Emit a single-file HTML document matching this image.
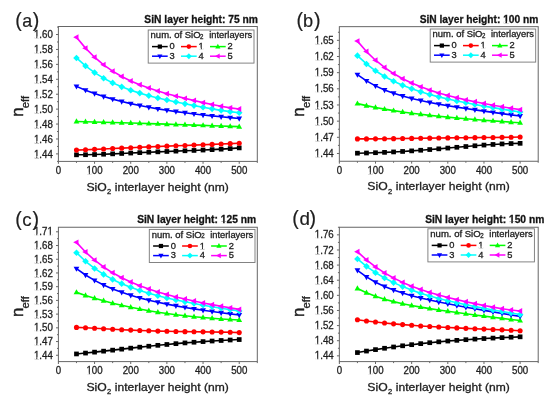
<!DOCTYPE html>
<html><head><meta charset="utf-8"><style>
html,body{margin:0;padding:0;background:#fff;}
svg{display:block;filter:blur(0.3px);}
text{font-family:"Liberation Sans", sans-serif;fill:#1e1e1e;stroke:#1e1e1e;stroke-width:0.3px;}
.tk{font-size:10.2px;}
.pl{font-size:19.6px;stroke-width:0.2px;}
.pm{stroke-width:0.2px;}
.tt{font-size:10px;font-weight:bold;fill:#111;}
.xl{font-size:10.8px;}
.xs{font-size:7.2px;}
.ls{font-size:6.4px;}
.yl{font-size:16.6px;stroke-width:0.45px;}
.ye{font-size:10px;}
.lg{font-size:8.4px;}
.ld{font-size:9.3px;}
</style></head><body>
<svg width="550" height="400" viewBox="0 0 550 400">
<rect width="550" height="400" fill="#fff"/>
<polyline points="76.48,154.82 85.52,154.73 94.56,154.52 103.60,154.22 112.65,153.86 121.69,153.47 130.73,153.06 139.77,152.64 148.81,152.24 157.85,151.85 166.89,151.48 175.93,151.13 184.97,150.78 194.01,150.43 203.05,150.05 212.10,149.64 221.14,149.17 230.18,148.60 239.22,147.90" fill="none" stroke="#000000" stroke-width="1.6" stroke-linejoin="round"/>
<rect x="74.13" y="152.47" width="4.70" height="4.70" fill="#000000"/>
<rect x="83.17" y="152.38" width="4.70" height="4.70" fill="#000000"/>
<rect x="92.21" y="152.17" width="4.70" height="4.70" fill="#000000"/>
<rect x="101.25" y="151.87" width="4.70" height="4.70" fill="#000000"/>
<rect x="110.30" y="151.51" width="4.70" height="4.70" fill="#000000"/>
<rect x="119.34" y="151.12" width="4.70" height="4.70" fill="#000000"/>
<rect x="128.38" y="150.71" width="4.70" height="4.70" fill="#000000"/>
<rect x="137.42" y="150.29" width="4.70" height="4.70" fill="#000000"/>
<rect x="146.46" y="149.89" width="4.70" height="4.70" fill="#000000"/>
<rect x="155.50" y="149.50" width="4.70" height="4.70" fill="#000000"/>
<rect x="164.54" y="149.13" width="4.70" height="4.70" fill="#000000"/>
<rect x="173.58" y="148.78" width="4.70" height="4.70" fill="#000000"/>
<rect x="182.62" y="148.43" width="4.70" height="4.70" fill="#000000"/>
<rect x="191.66" y="148.08" width="4.70" height="4.70" fill="#000000"/>
<rect x="200.70" y="147.70" width="4.70" height="4.70" fill="#000000"/>
<rect x="209.75" y="147.29" width="4.70" height="4.70" fill="#000000"/>
<rect x="218.79" y="146.82" width="4.70" height="4.70" fill="#000000"/>
<rect x="227.83" y="146.25" width="4.70" height="4.70" fill="#000000"/>
<rect x="236.87" y="145.55" width="4.70" height="4.70" fill="#000000"/>
<polyline points="76.48,150.11 85.52,149.75 94.56,149.37 103.60,148.97 112.65,148.55 121.69,148.14 130.73,147.73 139.77,147.32 148.81,146.92 157.85,146.54 166.89,146.16 175.93,145.80 184.97,145.44 194.01,145.09 203.05,144.74 212.10,144.39 221.14,144.02 230.18,143.64 239.22,143.22" fill="none" stroke="#ff0000" stroke-width="1.6" stroke-linejoin="round"/>
<circle cx="76.48" cy="150.11" r="2.55" fill="#ff0000"/>
<circle cx="85.52" cy="149.75" r="2.55" fill="#ff0000"/>
<circle cx="94.56" cy="149.37" r="2.55" fill="#ff0000"/>
<circle cx="103.60" cy="148.97" r="2.55" fill="#ff0000"/>
<circle cx="112.65" cy="148.55" r="2.55" fill="#ff0000"/>
<circle cx="121.69" cy="148.14" r="2.55" fill="#ff0000"/>
<circle cx="130.73" cy="147.73" r="2.55" fill="#ff0000"/>
<circle cx="139.77" cy="147.32" r="2.55" fill="#ff0000"/>
<circle cx="148.81" cy="146.92" r="2.55" fill="#ff0000"/>
<circle cx="157.85" cy="146.54" r="2.55" fill="#ff0000"/>
<circle cx="166.89" cy="146.16" r="2.55" fill="#ff0000"/>
<circle cx="175.93" cy="145.80" r="2.55" fill="#ff0000"/>
<circle cx="184.97" cy="145.44" r="2.55" fill="#ff0000"/>
<circle cx="194.01" cy="145.09" r="2.55" fill="#ff0000"/>
<circle cx="203.05" cy="144.74" r="2.55" fill="#ff0000"/>
<circle cx="212.10" cy="144.39" r="2.55" fill="#ff0000"/>
<circle cx="221.14" cy="144.02" r="2.55" fill="#ff0000"/>
<circle cx="230.18" cy="143.64" r="2.55" fill="#ff0000"/>
<circle cx="239.22" cy="143.22" r="2.55" fill="#ff0000"/>
<polyline points="76.48,121.43 85.52,121.68 94.56,121.94 103.60,122.21 112.65,122.48 121.69,122.75 130.73,123.03 139.77,123.31 148.81,123.59 157.85,123.88 166.89,124.17 175.93,124.47 184.97,124.77 194.01,125.08 203.05,125.39 212.10,125.70 221.14,126.02 230.18,126.34 239.22,126.67" fill="none" stroke="#00ff00" stroke-width="1.6" stroke-linejoin="round"/>
<path d="M76.48,118.23L79.36,123.41L73.60,123.41Z" fill="#00ff00"/>
<path d="M85.52,118.48L88.40,123.67L82.64,123.67Z" fill="#00ff00"/>
<path d="M94.56,118.74L97.44,123.93L91.68,123.93Z" fill="#00ff00"/>
<path d="M103.60,119.01L106.48,124.19L100.72,124.19Z" fill="#00ff00"/>
<path d="M112.65,119.28L115.53,124.46L109.77,124.46Z" fill="#00ff00"/>
<path d="M121.69,119.55L124.57,124.73L118.81,124.73Z" fill="#00ff00"/>
<path d="M130.73,119.83L133.61,125.01L127.85,125.01Z" fill="#00ff00"/>
<path d="M139.77,120.11L142.65,125.29L136.89,125.29Z" fill="#00ff00"/>
<path d="M148.81,120.39L151.69,125.58L145.93,125.58Z" fill="#00ff00"/>
<path d="M157.85,120.68L160.73,125.87L154.97,125.87Z" fill="#00ff00"/>
<path d="M166.89,120.97L169.77,126.16L164.01,126.16Z" fill="#00ff00"/>
<path d="M175.93,121.27L178.81,126.46L173.05,126.46Z" fill="#00ff00"/>
<path d="M184.97,121.57L187.85,126.76L182.09,126.76Z" fill="#00ff00"/>
<path d="M194.01,121.88L196.89,127.06L191.13,127.06Z" fill="#00ff00"/>
<path d="M203.05,122.19L205.93,127.37L200.17,127.37Z" fill="#00ff00"/>
<path d="M212.10,122.50L214.98,127.69L209.22,127.69Z" fill="#00ff00"/>
<path d="M221.14,122.82L224.02,128.01L218.26,128.01Z" fill="#00ff00"/>
<path d="M230.18,123.14L233.06,128.33L227.30,128.33Z" fill="#00ff00"/>
<path d="M239.22,123.47L242.10,128.65L236.34,128.65Z" fill="#00ff00"/>
<polyline points="76.48,86.38 85.52,90.14 94.56,93.49 103.60,96.47 112.65,99.12 121.69,101.50 130.73,103.63 139.77,105.55 148.81,107.29 157.85,108.86 166.89,110.30 175.93,111.61 184.97,112.81 194.01,113.92 203.05,114.95 212.10,115.91 221.14,116.81 230.18,117.65 239.22,118.45" fill="none" stroke="#0000ff" stroke-width="1.6" stroke-linejoin="round"/>
<path d="M76.48,89.58L79.36,84.39L73.60,84.39Z" fill="#0000ff"/>
<path d="M85.52,93.34L88.40,88.16L82.64,88.16Z" fill="#0000ff"/>
<path d="M94.56,96.69L97.44,91.51L91.68,91.51Z" fill="#0000ff"/>
<path d="M103.60,99.67L106.48,94.48L100.72,94.48Z" fill="#0000ff"/>
<path d="M112.65,102.32L115.53,97.14L109.77,97.14Z" fill="#0000ff"/>
<path d="M121.69,104.70L124.57,99.52L118.81,99.52Z" fill="#0000ff"/>
<path d="M130.73,106.83L133.61,101.65L127.85,101.65Z" fill="#0000ff"/>
<path d="M139.77,108.75L142.65,103.57L136.89,103.57Z" fill="#0000ff"/>
<path d="M148.81,110.49L151.69,105.31L145.93,105.31Z" fill="#0000ff"/>
<path d="M157.85,112.06L160.73,106.88L154.97,106.88Z" fill="#0000ff"/>
<path d="M166.89,113.50L169.77,108.31L164.01,108.31Z" fill="#0000ff"/>
<path d="M175.93,114.81L178.81,109.62L173.05,109.62Z" fill="#0000ff"/>
<path d="M184.97,116.01L187.85,110.83L182.09,110.83Z" fill="#0000ff"/>
<path d="M194.01,117.12L196.89,111.94L191.13,111.94Z" fill="#0000ff"/>
<path d="M203.05,118.15L205.93,112.97L200.17,112.97Z" fill="#0000ff"/>
<path d="M212.10,119.11L214.98,113.93L209.22,113.93Z" fill="#0000ff"/>
<path d="M221.14,120.01L224.02,114.82L218.26,114.82Z" fill="#0000ff"/>
<path d="M230.18,120.85L233.06,115.67L227.30,115.67Z" fill="#0000ff"/>
<path d="M239.22,121.65L242.10,116.46L236.34,116.46Z" fill="#0000ff"/>
<polyline points="76.48,57.96 85.52,65.91 94.56,72.58 103.60,78.18 112.65,82.88 121.69,86.85 130.73,90.22 139.77,93.12 148.81,95.67 157.85,97.95 166.89,100.04 175.93,101.98 184.97,103.83 194.01,105.59 203.05,107.28 212.10,108.87 221.14,110.34 230.18,111.64 239.22,112.69" fill="none" stroke="#00ffff" stroke-width="1.6" stroke-linejoin="round"/>
<path d="M76.48,54.66L79.78,57.96L76.48,61.26L73.18,57.96Z" fill="#00ffff"/>
<path d="M85.52,62.61L88.82,65.91L85.52,69.21L82.22,65.91Z" fill="#00ffff"/>
<path d="M94.56,69.28L97.86,72.58L94.56,75.88L91.26,72.58Z" fill="#00ffff"/>
<path d="M103.60,74.88L106.90,78.18L103.60,81.48L100.30,78.18Z" fill="#00ffff"/>
<path d="M112.65,79.58L115.95,82.88L112.65,86.18L109.35,82.88Z" fill="#00ffff"/>
<path d="M121.69,83.55L124.99,86.85L121.69,90.15L118.39,86.85Z" fill="#00ffff"/>
<path d="M130.73,86.92L134.03,90.22L130.73,93.52L127.43,90.22Z" fill="#00ffff"/>
<path d="M139.77,89.82L143.07,93.12L139.77,96.42L136.47,93.12Z" fill="#00ffff"/>
<path d="M148.81,92.37L152.11,95.67L148.81,98.97L145.51,95.67Z" fill="#00ffff"/>
<path d="M157.85,94.65L161.15,97.95L157.85,101.25L154.55,97.95Z" fill="#00ffff"/>
<path d="M166.89,96.74L170.19,100.04L166.89,103.34L163.59,100.04Z" fill="#00ffff"/>
<path d="M175.93,98.68L179.23,101.98L175.93,105.28L172.63,101.98Z" fill="#00ffff"/>
<path d="M184.97,100.53L188.27,103.83L184.97,107.13L181.67,103.83Z" fill="#00ffff"/>
<path d="M194.01,102.29L197.31,105.59L194.01,108.89L190.71,105.59Z" fill="#00ffff"/>
<path d="M203.05,103.98L206.35,107.28L203.05,110.58L199.75,107.28Z" fill="#00ffff"/>
<path d="M212.10,105.57L215.40,108.87L212.10,112.17L208.80,108.87Z" fill="#00ffff"/>
<path d="M221.14,107.04L224.44,110.34L221.14,113.64L217.84,110.34Z" fill="#00ffff"/>
<path d="M230.18,108.34L233.48,111.64L230.18,114.94L226.88,111.64Z" fill="#00ffff"/>
<path d="M239.22,109.39L242.52,112.69L239.22,115.99L235.92,112.69Z" fill="#00ffff"/>
<polyline points="76.48,37.26 85.52,48.13 94.56,57.23 103.60,64.83 112.65,71.17 121.69,76.48 130.73,80.96 139.77,84.77 148.81,88.08 157.85,91.01 166.89,93.66 175.93,96.10 184.97,98.40 194.01,100.57 203.05,102.64 212.10,104.57 221.14,106.33 230.18,107.86 239.22,109.05" fill="none" stroke="#ff00ff" stroke-width="1.6" stroke-linejoin="round"/>
<path d="M73.18,37.26L78.53,34.29L78.53,40.23Z" fill="#ff00ff"/>
<path d="M82.22,48.13L87.57,45.16L87.57,51.10Z" fill="#ff00ff"/>
<path d="M91.26,57.23L96.61,54.26L96.61,60.20Z" fill="#ff00ff"/>
<path d="M100.30,64.83L105.65,61.86L105.65,67.80Z" fill="#ff00ff"/>
<path d="M109.35,71.17L114.69,68.20L114.69,74.14Z" fill="#ff00ff"/>
<path d="M118.39,76.48L123.73,73.51L123.73,79.45Z" fill="#ff00ff"/>
<path d="M127.43,80.96L132.77,77.99L132.77,83.93Z" fill="#ff00ff"/>
<path d="M136.47,84.77L141.81,81.80L141.81,87.74Z" fill="#ff00ff"/>
<path d="M145.51,88.08L150.86,85.11L150.86,91.05Z" fill="#ff00ff"/>
<path d="M154.55,91.01L159.90,88.04L159.90,93.98Z" fill="#ff00ff"/>
<path d="M163.59,93.66L168.94,90.69L168.94,96.63Z" fill="#ff00ff"/>
<path d="M172.63,96.10L177.98,93.13L177.98,99.07Z" fill="#ff00ff"/>
<path d="M181.67,98.40L187.02,95.43L187.02,101.37Z" fill="#ff00ff"/>
<path d="M190.71,100.57L196.06,97.60L196.06,103.54Z" fill="#ff00ff"/>
<path d="M199.75,102.64L205.10,99.67L205.10,105.61Z" fill="#ff00ff"/>
<path d="M208.80,104.57L214.14,101.60L214.14,107.54Z" fill="#ff00ff"/>
<path d="M217.84,106.33L223.18,103.36L223.18,109.30Z" fill="#ff00ff"/>
<path d="M226.88,107.86L232.22,104.89L232.22,110.83Z" fill="#ff00ff"/>
<path d="M235.92,109.05L241.26,106.08L241.26,112.02Z" fill="#ff00ff"/>
<rect x="58.40" y="26.50" width="198.90" height="134.90" fill="none" stroke="#666666" stroke-width="1"/>
<line x1="58.40" y1="161.40" x2="58.40" y2="163.80" stroke="#666666" stroke-width="1"/>
<text x="58.40" y="174.10" text-anchor="middle" textLength="5.39" lengthAdjust="spacingAndGlyphs" class="tk">0</text>
<line x1="76.48" y1="161.40" x2="76.48" y2="162.90" stroke="#666666" stroke-width="1"/>
<line x1="94.56" y1="161.40" x2="94.56" y2="163.80" stroke="#666666" stroke-width="1"/>
<text x="94.56" y="174.10" text-anchor="middle" textLength="16.18" lengthAdjust="spacingAndGlyphs" class="tk">100</text>
<line x1="112.65" y1="161.40" x2="112.65" y2="162.90" stroke="#666666" stroke-width="1"/>
<line x1="130.73" y1="161.40" x2="130.73" y2="163.80" stroke="#666666" stroke-width="1"/>
<text x="130.73" y="174.10" text-anchor="middle" textLength="16.18" lengthAdjust="spacingAndGlyphs" class="tk">200</text>
<line x1="148.81" y1="161.40" x2="148.81" y2="162.90" stroke="#666666" stroke-width="1"/>
<line x1="166.89" y1="161.40" x2="166.89" y2="163.80" stroke="#666666" stroke-width="1"/>
<text x="166.89" y="174.10" text-anchor="middle" textLength="16.18" lengthAdjust="spacingAndGlyphs" class="tk">300</text>
<line x1="184.97" y1="161.40" x2="184.97" y2="162.90" stroke="#666666" stroke-width="1"/>
<line x1="203.05" y1="161.40" x2="203.05" y2="163.80" stroke="#666666" stroke-width="1"/>
<text x="203.05" y="174.10" text-anchor="middle" textLength="16.18" lengthAdjust="spacingAndGlyphs" class="tk">400</text>
<line x1="221.14" y1="161.40" x2="221.14" y2="162.90" stroke="#666666" stroke-width="1"/>
<line x1="239.22" y1="161.40" x2="239.22" y2="163.80" stroke="#666666" stroke-width="1"/>
<text x="239.22" y="174.10" text-anchor="middle" textLength="16.18" lengthAdjust="spacingAndGlyphs" class="tk">500</text>
<line x1="257.30" y1="161.40" x2="257.30" y2="162.90" stroke="#666666" stroke-width="1"/>
<line x1="57.00" y1="161.36" x2="58.40" y2="161.36" stroke="#666666" stroke-width="1"/>
<line x1="56.00" y1="153.90" x2="58.40" y2="153.90" stroke="#666666" stroke-width="1"/>
<text x="52.80" y="157.50" text-anchor="end" textLength="18.88" lengthAdjust="spacingAndGlyphs" class="tk">1.44</text>
<line x1="57.00" y1="146.44" x2="58.40" y2="146.44" stroke="#666666" stroke-width="1"/>
<line x1="56.00" y1="138.98" x2="58.40" y2="138.98" stroke="#666666" stroke-width="1"/>
<text x="52.80" y="142.58" text-anchor="end" textLength="18.88" lengthAdjust="spacingAndGlyphs" class="tk">1.46</text>
<line x1="57.00" y1="131.52" x2="58.40" y2="131.52" stroke="#666666" stroke-width="1"/>
<line x1="56.00" y1="124.06" x2="58.40" y2="124.06" stroke="#666666" stroke-width="1"/>
<text x="52.80" y="127.66" text-anchor="end" textLength="18.88" lengthAdjust="spacingAndGlyphs" class="tk">1.48</text>
<line x1="57.00" y1="116.60" x2="58.40" y2="116.60" stroke="#666666" stroke-width="1"/>
<line x1="56.00" y1="109.14" x2="58.40" y2="109.14" stroke="#666666" stroke-width="1"/>
<text x="52.80" y="112.74" text-anchor="end" textLength="18.88" lengthAdjust="spacingAndGlyphs" class="tk">1.50</text>
<line x1="57.00" y1="101.68" x2="58.40" y2="101.68" stroke="#666666" stroke-width="1"/>
<line x1="56.00" y1="94.22" x2="58.40" y2="94.22" stroke="#666666" stroke-width="1"/>
<text x="52.80" y="97.82" text-anchor="end" textLength="18.88" lengthAdjust="spacingAndGlyphs" class="tk">1.52</text>
<line x1="57.00" y1="86.76" x2="58.40" y2="86.76" stroke="#666666" stroke-width="1"/>
<line x1="56.00" y1="79.29" x2="58.40" y2="79.29" stroke="#666666" stroke-width="1"/>
<text x="52.80" y="82.89" text-anchor="end" textLength="18.88" lengthAdjust="spacingAndGlyphs" class="tk">1.54</text>
<line x1="57.00" y1="71.83" x2="58.40" y2="71.83" stroke="#666666" stroke-width="1"/>
<line x1="56.00" y1="64.37" x2="58.40" y2="64.37" stroke="#666666" stroke-width="1"/>
<text x="52.80" y="67.97" text-anchor="end" textLength="18.88" lengthAdjust="spacingAndGlyphs" class="tk">1.56</text>
<line x1="57.00" y1="56.91" x2="58.40" y2="56.91" stroke="#666666" stroke-width="1"/>
<line x1="56.00" y1="49.45" x2="58.40" y2="49.45" stroke="#666666" stroke-width="1"/>
<text x="52.80" y="53.05" text-anchor="end" textLength="18.88" lengthAdjust="spacingAndGlyphs" class="tk">1.58</text>
<line x1="57.00" y1="41.99" x2="58.40" y2="41.99" stroke="#666666" stroke-width="1"/>
<line x1="56.00" y1="34.53" x2="58.40" y2="34.53" stroke="#666666" stroke-width="1"/>
<text x="52.80" y="38.13" text-anchor="end" textLength="18.88" lengthAdjust="spacingAndGlyphs" class="tk">1.60</text>
<line x1="57.00" y1="27.07" x2="58.40" y2="27.07" stroke="#666666" stroke-width="1"/>
<text x="15.27" y="27.20" class="pl">(</text>
<text x="22.34" y="27.20" font-size="17.8" class="pm">a</text>
<text x="32.86" y="27.20" class="pl">)</text>
<text x="144.35" y="23.20" textLength="113.65" lengthAdjust="spacingAndGlyphs" class="tt">SiN layer height: 75 nm</text>
<text x="86.40" y="190.60" textLength="20.30" lengthAdjust="spacingAndGlyphs" class="xl">SiO</text>
<text x="107.00" y="193.80" textLength="4.20" lengthAdjust="spacingAndGlyphs" class="xs">2</text>
<text x="114.80" y="190.60" textLength="114.00" lengthAdjust="spacingAndGlyphs" class="xl">interlayer height (nm)</text>
<text transform="translate(23.00,116.80) rotate(-90)" class="yl">n</text>
<text transform="translate(28.90,108.20) rotate(-90)" textLength="12.2" lengthAdjust="spacingAndGlyphs" class="ye">eff</text>
<rect x="148.20" y="30.00" width="105.80" height="33.10" fill="#fff" stroke="#777" stroke-width="0.9"/>
<text x="150.60" y="38.40" textLength="50.00" lengthAdjust="spacingAndGlyphs" class="lg">num. of SiO</text>
<text x="200.10" y="38.80" textLength="3.40" lengthAdjust="spacingAndGlyphs" class="ls">2</text>
<text x="209.20" y="38.40" textLength="43.00" lengthAdjust="spacingAndGlyphs" class="lg">interlayers</text>
<line x1="152.00" y1="46.60" x2="167.70" y2="46.60" stroke="#000000" stroke-width="1.5"/>
<rect x="157.73" y="44.48" width="4.23" height="4.23" fill="#000000"/>
<text x="169.60" y="49.20" class="ld">0</text>
<line x1="181.00" y1="46.60" x2="196.70" y2="46.60" stroke="#ff0000" stroke-width="1.5"/>
<circle cx="188.85" cy="46.60" r="2.29" fill="#ff0000"/>
<text x="198.60" y="49.20" class="ld">1</text>
<line x1="210.00" y1="46.60" x2="225.70" y2="46.60" stroke="#00ff00" stroke-width="1.5"/>
<path d="M217.85,43.72L220.44,48.39L215.26,48.39Z" fill="#00ff00"/>
<text x="227.60" y="49.20" class="ld">2</text>
<line x1="152.00" y1="56.20" x2="167.70" y2="56.20" stroke="#0000ff" stroke-width="1.5"/>
<path d="M159.85,59.08L162.44,54.41L157.26,54.41Z" fill="#0000ff"/>
<text x="169.60" y="58.80" class="ld">3</text>
<line x1="181.00" y1="56.20" x2="196.70" y2="56.20" stroke="#00ffff" stroke-width="1.5"/>
<path d="M188.85,53.23L191.82,56.20L188.85,59.17L185.88,56.20Z" fill="#00ffff"/>
<text x="198.60" y="58.80" class="ld">4</text>
<line x1="210.00" y1="56.20" x2="225.70" y2="56.20" stroke="#ff00ff" stroke-width="1.5"/>
<path d="M214.88,56.20L219.69,53.53L219.69,58.87Z" fill="#ff00ff"/>
<text x="227.60" y="58.80" class="ld">5</text>
<polyline points="357.43,153.19 366.47,152.99 375.50,152.71 384.54,152.37 393.58,151.94 402.62,151.45 411.66,150.88 420.70,150.25 429.74,149.56 438.78,148.83 447.81,148.07 456.85,147.29 465.89,146.52 474.93,145.77 483.97,145.07 493.01,144.45 502.05,143.93 511.08,143.55 520.12,143.33" fill="none" stroke="#000000" stroke-width="1.6" stroke-linejoin="round"/>
<rect x="355.08" y="150.84" width="4.70" height="4.70" fill="#000000"/>
<rect x="364.12" y="150.64" width="4.70" height="4.70" fill="#000000"/>
<rect x="373.15" y="150.36" width="4.70" height="4.70" fill="#000000"/>
<rect x="382.19" y="150.02" width="4.70" height="4.70" fill="#000000"/>
<rect x="391.23" y="149.59" width="4.70" height="4.70" fill="#000000"/>
<rect x="400.27" y="149.10" width="4.70" height="4.70" fill="#000000"/>
<rect x="409.31" y="148.53" width="4.70" height="4.70" fill="#000000"/>
<rect x="418.35" y="147.90" width="4.70" height="4.70" fill="#000000"/>
<rect x="427.39" y="147.21" width="4.70" height="4.70" fill="#000000"/>
<rect x="436.43" y="146.48" width="4.70" height="4.70" fill="#000000"/>
<rect x="445.46" y="145.72" width="4.70" height="4.70" fill="#000000"/>
<rect x="454.50" y="144.94" width="4.70" height="4.70" fill="#000000"/>
<rect x="463.54" y="144.17" width="4.70" height="4.70" fill="#000000"/>
<rect x="472.58" y="143.42" width="4.70" height="4.70" fill="#000000"/>
<rect x="481.62" y="142.72" width="4.70" height="4.70" fill="#000000"/>
<rect x="490.66" y="142.10" width="4.70" height="4.70" fill="#000000"/>
<rect x="499.70" y="141.58" width="4.70" height="4.70" fill="#000000"/>
<rect x="508.73" y="141.20" width="4.70" height="4.70" fill="#000000"/>
<rect x="517.77" y="140.98" width="4.70" height="4.70" fill="#000000"/>
<polyline points="357.43,138.91 366.47,138.89 375.50,138.83 384.54,138.74 393.58,138.63 402.62,138.51 411.66,138.38 420.70,138.26 429.74,138.14 438.78,138.02 447.81,137.91 456.85,137.82 465.89,137.73 474.93,137.64 483.97,137.55 493.01,137.45 502.05,137.34 511.08,137.21 520.12,137.05" fill="none" stroke="#ff0000" stroke-width="1.6" stroke-linejoin="round"/>
<circle cx="357.43" cy="138.91" r="2.55" fill="#ff0000"/>
<circle cx="366.47" cy="138.89" r="2.55" fill="#ff0000"/>
<circle cx="375.50" cy="138.83" r="2.55" fill="#ff0000"/>
<circle cx="384.54" cy="138.74" r="2.55" fill="#ff0000"/>
<circle cx="393.58" cy="138.63" r="2.55" fill="#ff0000"/>
<circle cx="402.62" cy="138.51" r="2.55" fill="#ff0000"/>
<circle cx="411.66" cy="138.38" r="2.55" fill="#ff0000"/>
<circle cx="420.70" cy="138.26" r="2.55" fill="#ff0000"/>
<circle cx="429.74" cy="138.14" r="2.55" fill="#ff0000"/>
<circle cx="438.78" cy="138.02" r="2.55" fill="#ff0000"/>
<circle cx="447.81" cy="137.91" r="2.55" fill="#ff0000"/>
<circle cx="456.85" cy="137.82" r="2.55" fill="#ff0000"/>
<circle cx="465.89" cy="137.73" r="2.55" fill="#ff0000"/>
<circle cx="474.93" cy="137.64" r="2.55" fill="#ff0000"/>
<circle cx="483.97" cy="137.55" r="2.55" fill="#ff0000"/>
<circle cx="493.01" cy="137.45" r="2.55" fill="#ff0000"/>
<circle cx="502.05" cy="137.34" r="2.55" fill="#ff0000"/>
<circle cx="511.08" cy="137.21" r="2.55" fill="#ff0000"/>
<circle cx="520.12" cy="137.05" r="2.55" fill="#ff0000"/>
<polyline points="357.43,103.61 366.47,105.65 375.50,107.48 384.54,109.13 393.58,110.63 402.62,111.98 411.66,113.20 420.70,114.32 429.74,115.34 438.78,116.28 447.81,117.15 456.85,117.97 465.89,118.74 474.93,119.47 483.97,120.18 493.01,120.86 502.05,121.52 511.08,122.18 520.12,122.82" fill="none" stroke="#00ff00" stroke-width="1.6" stroke-linejoin="round"/>
<path d="M357.43,100.41L360.31,105.60L354.55,105.60Z" fill="#00ff00"/>
<path d="M366.47,102.45L369.35,107.63L363.59,107.63Z" fill="#00ff00"/>
<path d="M375.50,104.28L378.38,109.46L372.62,109.46Z" fill="#00ff00"/>
<path d="M384.54,105.93L387.42,111.12L381.66,111.12Z" fill="#00ff00"/>
<path d="M393.58,107.43L396.46,112.61L390.70,112.61Z" fill="#00ff00"/>
<path d="M402.62,108.78L405.50,113.96L399.74,113.96Z" fill="#00ff00"/>
<path d="M411.66,110.00L414.54,115.18L408.78,115.18Z" fill="#00ff00"/>
<path d="M420.70,111.12L423.58,116.30L417.82,116.30Z" fill="#00ff00"/>
<path d="M429.74,112.14L432.62,117.32L426.86,117.32Z" fill="#00ff00"/>
<path d="M438.78,113.08L441.66,118.26L435.90,118.26Z" fill="#00ff00"/>
<path d="M447.81,113.95L450.69,119.14L444.93,119.14Z" fill="#00ff00"/>
<path d="M456.85,114.77L459.73,119.95L453.97,119.95Z" fill="#00ff00"/>
<path d="M465.89,115.54L468.77,120.72L463.01,120.72Z" fill="#00ff00"/>
<path d="M474.93,116.27L477.81,121.46L472.05,121.46Z" fill="#00ff00"/>
<path d="M483.97,116.98L486.85,122.16L481.09,122.16Z" fill="#00ff00"/>
<path d="M493.01,117.66L495.89,122.84L490.13,122.84Z" fill="#00ff00"/>
<path d="M502.05,118.32L504.93,123.51L499.17,123.51Z" fill="#00ff00"/>
<path d="M511.08,118.98L513.96,124.16L508.20,124.16Z" fill="#00ff00"/>
<path d="M520.12,119.62L523.00,124.80L517.24,124.80Z" fill="#00ff00"/>
<polyline points="357.43,74.67 366.47,80.90 375.50,85.89 384.54,89.94 393.58,93.28 402.62,96.08 411.66,98.48 420.70,100.57 429.74,102.43 438.78,104.12 447.81,105.68 456.85,107.14 465.89,108.53 474.93,109.86 483.97,111.14 493.01,112.40 502.05,113.63 511.08,114.84 520.12,116.04" fill="none" stroke="#0000ff" stroke-width="1.6" stroke-linejoin="round"/>
<path d="M357.43,77.87L360.31,72.68L354.55,72.68Z" fill="#0000ff"/>
<path d="M366.47,84.10L369.35,78.92L363.59,78.92Z" fill="#0000ff"/>
<path d="M375.50,89.09L378.38,83.91L372.62,83.91Z" fill="#0000ff"/>
<path d="M384.54,93.14L387.42,87.95L381.66,87.95Z" fill="#0000ff"/>
<path d="M393.58,96.48L396.46,91.29L390.70,91.29Z" fill="#0000ff"/>
<path d="M402.62,99.28L405.50,94.09L399.74,94.09Z" fill="#0000ff"/>
<path d="M411.66,101.68L414.54,96.49L408.78,96.49Z" fill="#0000ff"/>
<path d="M420.70,103.77L423.58,98.59L417.82,98.59Z" fill="#0000ff"/>
<path d="M429.74,105.63L432.62,100.45L426.86,100.45Z" fill="#0000ff"/>
<path d="M438.78,107.32L441.66,102.14L435.90,102.14Z" fill="#0000ff"/>
<path d="M447.81,108.88L450.69,103.70L444.93,103.70Z" fill="#0000ff"/>
<path d="M456.85,110.34L459.73,105.16L453.97,105.16Z" fill="#0000ff"/>
<path d="M465.89,111.73L468.77,106.54L463.01,106.54Z" fill="#0000ff"/>
<path d="M474.93,113.06L477.81,107.87L472.05,107.87Z" fill="#0000ff"/>
<path d="M483.97,114.34L486.85,109.16L481.09,109.16Z" fill="#0000ff"/>
<path d="M493.01,115.60L495.89,110.41L490.13,110.41Z" fill="#0000ff"/>
<path d="M502.05,116.83L504.93,111.64L499.17,111.64Z" fill="#0000ff"/>
<path d="M511.08,118.04L513.96,112.86L508.20,112.86Z" fill="#0000ff"/>
<path d="M520.12,119.24L523.00,114.05L517.24,114.05Z" fill="#0000ff"/>
<polyline points="357.43,55.67 366.47,63.96 375.50,70.80 384.54,76.49 393.58,81.27 402.62,85.33 411.66,88.81 420.70,91.83 429.74,94.49 438.78,96.87 447.81,99.01 456.85,100.98 465.89,102.80 474.93,104.50 483.97,106.12 493.01,107.66 502.05,109.15 511.08,110.59 520.12,111.99" fill="none" stroke="#00ffff" stroke-width="1.6" stroke-linejoin="round"/>
<path d="M357.43,52.37L360.73,55.67L357.43,58.97L354.13,55.67Z" fill="#00ffff"/>
<path d="M366.47,60.66L369.77,63.96L366.47,67.26L363.17,63.96Z" fill="#00ffff"/>
<path d="M375.50,67.50L378.80,70.80L375.50,74.10L372.20,70.80Z" fill="#00ffff"/>
<path d="M384.54,73.19L387.84,76.49L384.54,79.79L381.24,76.49Z" fill="#00ffff"/>
<path d="M393.58,77.97L396.88,81.27L393.58,84.57L390.28,81.27Z" fill="#00ffff"/>
<path d="M402.62,82.03L405.92,85.33L402.62,88.63L399.32,85.33Z" fill="#00ffff"/>
<path d="M411.66,85.51L414.96,88.81L411.66,92.11L408.36,88.81Z" fill="#00ffff"/>
<path d="M420.70,88.53L424.00,91.83L420.70,95.13L417.40,91.83Z" fill="#00ffff"/>
<path d="M429.74,91.19L433.04,94.49L429.74,97.79L426.44,94.49Z" fill="#00ffff"/>
<path d="M438.78,93.57L442.08,96.87L438.78,100.17L435.48,96.87Z" fill="#00ffff"/>
<path d="M447.81,95.71L451.11,99.01L447.81,102.31L444.51,99.01Z" fill="#00ffff"/>
<path d="M456.85,97.68L460.15,100.98L456.85,104.28L453.55,100.98Z" fill="#00ffff"/>
<path d="M465.89,99.50L469.19,102.80L465.89,106.10L462.59,102.80Z" fill="#00ffff"/>
<path d="M474.93,101.20L478.23,104.50L474.93,107.80L471.63,104.50Z" fill="#00ffff"/>
<path d="M483.97,102.82L487.27,106.12L483.97,109.42L480.67,106.12Z" fill="#00ffff"/>
<path d="M493.01,104.36L496.31,107.66L493.01,110.96L489.71,107.66Z" fill="#00ffff"/>
<path d="M502.05,105.85L505.35,109.15L502.05,112.45L498.75,109.15Z" fill="#00ffff"/>
<path d="M511.08,107.29L514.38,110.59L511.08,113.89L507.78,110.59Z" fill="#00ffff"/>
<path d="M520.12,108.69L523.42,111.99L520.12,115.29L516.82,111.99Z" fill="#00ffff"/>
<polyline points="357.43,41.12 366.47,51.56 375.50,60.23 384.54,67.47 393.58,73.55 402.62,78.70 411.66,83.08 420.70,86.85 429.74,90.12 438.78,92.99 447.81,95.54 456.85,97.82 465.89,99.89 474.93,101.78 483.97,103.54 493.01,105.18 502.05,106.73 511.08,108.21 520.12,109.63" fill="none" stroke="#ff00ff" stroke-width="1.6" stroke-linejoin="round"/>
<path d="M354.13,41.12L359.47,38.15L359.47,44.09Z" fill="#ff00ff"/>
<path d="M363.17,51.56L368.51,48.59L368.51,54.53Z" fill="#ff00ff"/>
<path d="M372.20,60.23L377.55,57.26L377.55,63.20Z" fill="#ff00ff"/>
<path d="M381.24,67.47L386.59,64.50L386.59,70.44Z" fill="#ff00ff"/>
<path d="M390.28,73.55L395.63,70.58L395.63,76.52Z" fill="#ff00ff"/>
<path d="M399.32,78.70L404.67,75.73L404.67,81.67Z" fill="#ff00ff"/>
<path d="M408.36,83.08L413.71,80.11L413.71,86.05Z" fill="#ff00ff"/>
<path d="M417.40,86.85L422.74,83.88L422.74,89.82Z" fill="#ff00ff"/>
<path d="M426.44,90.12L431.78,87.15L431.78,93.09Z" fill="#ff00ff"/>
<path d="M435.48,92.99L440.82,90.02L440.82,95.96Z" fill="#ff00ff"/>
<path d="M444.51,95.54L449.86,92.57L449.86,98.51Z" fill="#ff00ff"/>
<path d="M453.55,97.82L458.90,94.85L458.90,100.79Z" fill="#ff00ff"/>
<path d="M462.59,99.89L467.94,96.92L467.94,102.86Z" fill="#ff00ff"/>
<path d="M471.63,101.78L476.98,98.81L476.98,104.75Z" fill="#ff00ff"/>
<path d="M480.67,103.54L486.01,100.57L486.01,106.51Z" fill="#ff00ff"/>
<path d="M489.71,105.18L495.05,102.21L495.05,108.15Z" fill="#ff00ff"/>
<path d="M498.75,106.73L504.09,103.76L504.09,109.70Z" fill="#ff00ff"/>
<path d="M507.78,108.21L513.13,105.24L513.13,111.18Z" fill="#ff00ff"/>
<path d="M516.82,109.63L522.17,106.66L522.17,112.60Z" fill="#ff00ff"/>
<rect x="339.35" y="26.65" width="198.85" height="134.60" fill="none" stroke="#666666" stroke-width="1"/>
<line x1="339.35" y1="161.25" x2="339.35" y2="163.65" stroke="#666666" stroke-width="1"/>
<text x="339.35" y="173.95" text-anchor="middle" textLength="5.39" lengthAdjust="spacingAndGlyphs" class="tk">0</text>
<line x1="357.43" y1="161.25" x2="357.43" y2="162.75" stroke="#666666" stroke-width="1"/>
<line x1="375.50" y1="161.25" x2="375.50" y2="163.65" stroke="#666666" stroke-width="1"/>
<text x="375.50" y="173.95" text-anchor="middle" textLength="16.18" lengthAdjust="spacingAndGlyphs" class="tk">100</text>
<line x1="393.58" y1="161.25" x2="393.58" y2="162.75" stroke="#666666" stroke-width="1"/>
<line x1="411.66" y1="161.25" x2="411.66" y2="163.65" stroke="#666666" stroke-width="1"/>
<text x="411.66" y="173.95" text-anchor="middle" textLength="16.18" lengthAdjust="spacingAndGlyphs" class="tk">200</text>
<line x1="429.74" y1="161.25" x2="429.74" y2="162.75" stroke="#666666" stroke-width="1"/>
<line x1="447.81" y1="161.25" x2="447.81" y2="163.65" stroke="#666666" stroke-width="1"/>
<text x="447.81" y="173.95" text-anchor="middle" textLength="16.18" lengthAdjust="spacingAndGlyphs" class="tk">300</text>
<line x1="465.89" y1="161.25" x2="465.89" y2="162.75" stroke="#666666" stroke-width="1"/>
<line x1="483.97" y1="161.25" x2="483.97" y2="163.65" stroke="#666666" stroke-width="1"/>
<text x="483.97" y="173.95" text-anchor="middle" textLength="16.18" lengthAdjust="spacingAndGlyphs" class="tk">400</text>
<line x1="502.05" y1="161.25" x2="502.05" y2="162.75" stroke="#666666" stroke-width="1"/>
<line x1="520.12" y1="161.25" x2="520.12" y2="163.65" stroke="#666666" stroke-width="1"/>
<text x="520.12" y="173.95" text-anchor="middle" textLength="16.18" lengthAdjust="spacingAndGlyphs" class="tk">500</text>
<line x1="538.20" y1="161.25" x2="538.20" y2="162.75" stroke="#666666" stroke-width="1"/>
<line x1="336.95" y1="153.47" x2="339.35" y2="153.47" stroke="#666666" stroke-width="1"/>
<text x="333.75" y="157.07" text-anchor="end" textLength="18.88" lengthAdjust="spacingAndGlyphs" class="tk">1.44</text>
<line x1="337.95" y1="145.39" x2="339.35" y2="145.39" stroke="#666666" stroke-width="1"/>
<line x1="336.95" y1="137.31" x2="339.35" y2="137.31" stroke="#666666" stroke-width="1"/>
<text x="333.75" y="140.91" text-anchor="end" textLength="18.88" lengthAdjust="spacingAndGlyphs" class="tk">1.47</text>
<line x1="337.95" y1="129.23" x2="339.35" y2="129.23" stroke="#666666" stroke-width="1"/>
<line x1="336.95" y1="121.15" x2="339.35" y2="121.15" stroke="#666666" stroke-width="1"/>
<text x="333.75" y="124.75" text-anchor="end" textLength="18.88" lengthAdjust="spacingAndGlyphs" class="tk">1.50</text>
<line x1="337.95" y1="113.07" x2="339.35" y2="113.07" stroke="#666666" stroke-width="1"/>
<line x1="336.95" y1="104.98" x2="339.35" y2="104.98" stroke="#666666" stroke-width="1"/>
<text x="333.75" y="108.58" text-anchor="end" textLength="18.88" lengthAdjust="spacingAndGlyphs" class="tk">1.53</text>
<line x1="337.95" y1="96.90" x2="339.35" y2="96.90" stroke="#666666" stroke-width="1"/>
<line x1="336.95" y1="88.82" x2="339.35" y2="88.82" stroke="#666666" stroke-width="1"/>
<text x="333.75" y="92.42" text-anchor="end" textLength="18.88" lengthAdjust="spacingAndGlyphs" class="tk">1.56</text>
<line x1="337.95" y1="80.74" x2="339.35" y2="80.74" stroke="#666666" stroke-width="1"/>
<line x1="336.95" y1="72.66" x2="339.35" y2="72.66" stroke="#666666" stroke-width="1"/>
<text x="333.75" y="76.26" text-anchor="end" textLength="18.88" lengthAdjust="spacingAndGlyphs" class="tk">1.59</text>
<line x1="337.95" y1="64.58" x2="339.35" y2="64.58" stroke="#666666" stroke-width="1"/>
<line x1="336.95" y1="56.50" x2="339.35" y2="56.50" stroke="#666666" stroke-width="1"/>
<text x="333.75" y="60.10" text-anchor="end" textLength="18.88" lengthAdjust="spacingAndGlyphs" class="tk">1.62</text>
<line x1="337.95" y1="48.42" x2="339.35" y2="48.42" stroke="#666666" stroke-width="1"/>
<line x1="336.95" y1="40.33" x2="339.35" y2="40.33" stroke="#666666" stroke-width="1"/>
<text x="333.75" y="43.93" text-anchor="end" textLength="18.88" lengthAdjust="spacingAndGlyphs" class="tk">1.65</text>
<line x1="337.95" y1="32.25" x2="339.35" y2="32.25" stroke="#666666" stroke-width="1"/>
<text x="296.47" y="27.20" class="pl">(</text>
<text x="303.00" y="27.20" font-size="18.2" class="pm">b</text>
<text x="314.06" y="27.20" class="pl">)</text>
<text x="419.65" y="22.90" textLength="118.75" lengthAdjust="spacingAndGlyphs" class="tt">SiN layer height: 100 nm</text>
<text x="367.35" y="190.45" textLength="20.30" lengthAdjust="spacingAndGlyphs" class="xl">SiO</text>
<text x="387.95" y="193.65" textLength="4.20" lengthAdjust="spacingAndGlyphs" class="xs">2</text>
<text x="395.75" y="190.45" textLength="114.00" lengthAdjust="spacingAndGlyphs" class="xl">interlayer height (nm)</text>
<text transform="translate(303.95,116.65) rotate(-90)" class="yl">n</text>
<text transform="translate(309.85,108.05) rotate(-90)" textLength="12.2" lengthAdjust="spacingAndGlyphs" class="ye">eff</text>
<rect x="430.20" y="29.00" width="105.50" height="33.10" fill="#fff" stroke="#777" stroke-width="0.9"/>
<text x="432.59" y="37.40" textLength="49.86" lengthAdjust="spacingAndGlyphs" class="lg">num. of SiO</text>
<text x="481.95" y="37.80" textLength="3.40" lengthAdjust="spacingAndGlyphs" class="ls">2</text>
<text x="491.03" y="37.40" textLength="42.88" lengthAdjust="spacingAndGlyphs" class="lg">interlayers</text>
<line x1="434.00" y1="45.60" x2="449.70" y2="45.60" stroke="#000000" stroke-width="1.5"/>
<rect x="439.74" y="43.48" width="4.23" height="4.23" fill="#000000"/>
<text x="451.60" y="48.20" class="ld">0</text>
<line x1="463.00" y1="45.60" x2="478.70" y2="45.60" stroke="#ff0000" stroke-width="1.5"/>
<circle cx="470.85" cy="45.60" r="2.29" fill="#ff0000"/>
<text x="480.60" y="48.20" class="ld">1</text>
<line x1="492.00" y1="45.60" x2="507.70" y2="45.60" stroke="#00ff00" stroke-width="1.5"/>
<path d="M499.85,42.72L502.44,47.39L497.26,47.39Z" fill="#00ff00"/>
<text x="509.60" y="48.20" class="ld">2</text>
<line x1="434.00" y1="55.20" x2="449.70" y2="55.20" stroke="#0000ff" stroke-width="1.5"/>
<path d="M441.85,58.08L444.44,53.41L439.26,53.41Z" fill="#0000ff"/>
<text x="451.60" y="57.80" class="ld">3</text>
<line x1="463.00" y1="55.20" x2="478.70" y2="55.20" stroke="#00ffff" stroke-width="1.5"/>
<path d="M470.85,52.23L473.82,55.20L470.85,58.17L467.88,55.20Z" fill="#00ffff"/>
<text x="480.60" y="57.80" class="ld">4</text>
<line x1="492.00" y1="55.20" x2="507.70" y2="55.20" stroke="#ff00ff" stroke-width="1.5"/>
<path d="M496.88,55.20L501.69,52.53L501.69,57.87Z" fill="#ff00ff"/>
<text x="509.60" y="57.80" class="ld">5</text>
<polyline points="76.48,353.94 85.52,353.07 94.56,352.13 103.60,351.15 112.65,350.15 121.69,349.15 130.73,348.15 139.77,347.17 148.81,346.23 157.85,345.32 166.89,344.47 175.93,343.66 184.97,342.91 194.01,342.23 203.05,341.59 212.10,341.02 221.14,340.49 230.18,340.01 239.22,339.57" fill="none" stroke="#000000" stroke-width="1.6" stroke-linejoin="round"/>
<rect x="74.13" y="351.59" width="4.70" height="4.70" fill="#000000"/>
<rect x="83.17" y="350.72" width="4.70" height="4.70" fill="#000000"/>
<rect x="92.21" y="349.78" width="4.70" height="4.70" fill="#000000"/>
<rect x="101.25" y="348.80" width="4.70" height="4.70" fill="#000000"/>
<rect x="110.30" y="347.80" width="4.70" height="4.70" fill="#000000"/>
<rect x="119.34" y="346.80" width="4.70" height="4.70" fill="#000000"/>
<rect x="128.38" y="345.80" width="4.70" height="4.70" fill="#000000"/>
<rect x="137.42" y="344.82" width="4.70" height="4.70" fill="#000000"/>
<rect x="146.46" y="343.88" width="4.70" height="4.70" fill="#000000"/>
<rect x="155.50" y="342.97" width="4.70" height="4.70" fill="#000000"/>
<rect x="164.54" y="342.12" width="4.70" height="4.70" fill="#000000"/>
<rect x="173.58" y="341.31" width="4.70" height="4.70" fill="#000000"/>
<rect x="182.62" y="340.56" width="4.70" height="4.70" fill="#000000"/>
<rect x="191.66" y="339.88" width="4.70" height="4.70" fill="#000000"/>
<rect x="200.70" y="339.24" width="4.70" height="4.70" fill="#000000"/>
<rect x="209.75" y="338.67" width="4.70" height="4.70" fill="#000000"/>
<rect x="218.79" y="338.14" width="4.70" height="4.70" fill="#000000"/>
<rect x="227.83" y="337.66" width="4.70" height="4.70" fill="#000000"/>
<rect x="236.87" y="337.22" width="4.70" height="4.70" fill="#000000"/>
<polyline points="76.48,327.41 85.52,327.82 94.56,328.27 103.60,328.75 112.65,329.23 121.69,329.68 130.73,330.11 139.77,330.49 148.81,330.82 157.85,331.10 166.89,331.32 175.93,331.50 184.97,331.64 194.01,331.75 203.05,331.85 212.10,331.96 221.14,332.10 230.18,332.31 239.22,332.60" fill="none" stroke="#ff0000" stroke-width="1.6" stroke-linejoin="round"/>
<circle cx="76.48" cy="327.41" r="2.55" fill="#ff0000"/>
<circle cx="85.52" cy="327.82" r="2.55" fill="#ff0000"/>
<circle cx="94.56" cy="328.27" r="2.55" fill="#ff0000"/>
<circle cx="103.60" cy="328.75" r="2.55" fill="#ff0000"/>
<circle cx="112.65" cy="329.23" r="2.55" fill="#ff0000"/>
<circle cx="121.69" cy="329.68" r="2.55" fill="#ff0000"/>
<circle cx="130.73" cy="330.11" r="2.55" fill="#ff0000"/>
<circle cx="139.77" cy="330.49" r="2.55" fill="#ff0000"/>
<circle cx="148.81" cy="330.82" r="2.55" fill="#ff0000"/>
<circle cx="157.85" cy="331.10" r="2.55" fill="#ff0000"/>
<circle cx="166.89" cy="331.32" r="2.55" fill="#ff0000"/>
<circle cx="175.93" cy="331.50" r="2.55" fill="#ff0000"/>
<circle cx="184.97" cy="331.64" r="2.55" fill="#ff0000"/>
<circle cx="194.01" cy="331.75" r="2.55" fill="#ff0000"/>
<circle cx="203.05" cy="331.85" r="2.55" fill="#ff0000"/>
<circle cx="212.10" cy="331.96" r="2.55" fill="#ff0000"/>
<circle cx="221.14" cy="332.10" r="2.55" fill="#ff0000"/>
<circle cx="230.18" cy="332.31" r="2.55" fill="#ff0000"/>
<circle cx="239.22" cy="332.60" r="2.55" fill="#ff0000"/>
<polyline points="76.48,292.37 85.52,295.44 94.56,298.25 103.60,300.82 112.65,303.18 121.69,305.33 130.73,307.29 139.77,309.08 148.81,310.70 157.85,312.17 166.89,313.49 175.93,314.68 184.97,315.75 194.01,316.71 203.05,317.55 212.10,318.30 221.14,318.96 230.18,319.53 239.22,320.01" fill="none" stroke="#00ff00" stroke-width="1.6" stroke-linejoin="round"/>
<path d="M76.48,289.17L79.36,294.36L73.60,294.36Z" fill="#00ff00"/>
<path d="M85.52,292.24L88.40,297.42L82.64,297.42Z" fill="#00ff00"/>
<path d="M94.56,295.05L97.44,300.23L91.68,300.23Z" fill="#00ff00"/>
<path d="M103.60,297.62L106.48,302.81L100.72,302.81Z" fill="#00ff00"/>
<path d="M112.65,299.98L115.53,305.16L109.77,305.16Z" fill="#00ff00"/>
<path d="M121.69,302.13L124.57,307.32L118.81,307.32Z" fill="#00ff00"/>
<path d="M130.73,304.09L133.61,309.28L127.85,309.28Z" fill="#00ff00"/>
<path d="M139.77,305.88L142.65,311.06L136.89,311.06Z" fill="#00ff00"/>
<path d="M148.81,307.50L151.69,312.68L145.93,312.68Z" fill="#00ff00"/>
<path d="M157.85,308.97L160.73,314.15L154.97,314.15Z" fill="#00ff00"/>
<path d="M166.89,310.29L169.77,315.48L164.01,315.48Z" fill="#00ff00"/>
<path d="M175.93,311.48L178.81,316.67L173.05,316.67Z" fill="#00ff00"/>
<path d="M184.97,312.55L187.85,317.74L182.09,317.74Z" fill="#00ff00"/>
<path d="M194.01,313.51L196.89,318.69L191.13,318.69Z" fill="#00ff00"/>
<path d="M203.05,314.35L205.93,319.54L200.17,319.54Z" fill="#00ff00"/>
<path d="M212.10,315.10L214.98,320.29L209.22,320.29Z" fill="#00ff00"/>
<path d="M221.14,315.76L224.02,320.94L218.26,320.94Z" fill="#00ff00"/>
<path d="M230.18,316.33L233.06,321.51L227.30,321.51Z" fill="#00ff00"/>
<path d="M239.22,316.81L242.10,322.00L236.34,322.00Z" fill="#00ff00"/>
<polyline points="76.48,268.64 85.52,274.98 94.56,280.37 103.60,284.96 112.65,288.91 121.69,292.32 130.73,295.29 139.77,297.90 148.81,300.21 157.85,302.28 166.89,304.15 175.93,305.85 184.97,307.42 194.01,308.87 203.05,310.23 212.10,311.52 221.14,312.74 230.18,313.91 239.22,315.05" fill="none" stroke="#0000ff" stroke-width="1.6" stroke-linejoin="round"/>
<path d="M76.48,271.84L79.36,266.65L73.60,266.65Z" fill="#0000ff"/>
<path d="M85.52,278.18L88.40,273.00L82.64,273.00Z" fill="#0000ff"/>
<path d="M94.56,283.57L97.44,278.38L91.68,278.38Z" fill="#0000ff"/>
<path d="M103.60,288.16L106.48,282.98L100.72,282.98Z" fill="#0000ff"/>
<path d="M112.65,292.11L115.53,286.92L109.77,286.92Z" fill="#0000ff"/>
<path d="M121.69,295.52L124.57,290.33L118.81,290.33Z" fill="#0000ff"/>
<path d="M130.73,298.49L133.61,293.31L127.85,293.31Z" fill="#0000ff"/>
<path d="M139.77,301.10L142.65,295.92L136.89,295.92Z" fill="#0000ff"/>
<path d="M148.81,303.41L151.69,298.23L145.93,298.23Z" fill="#0000ff"/>
<path d="M157.85,305.48L160.73,300.30L154.97,300.30Z" fill="#0000ff"/>
<path d="M166.89,307.35L169.77,302.16L164.01,302.16Z" fill="#0000ff"/>
<path d="M175.93,309.05L178.81,303.87L173.05,303.87Z" fill="#0000ff"/>
<path d="M184.97,310.62L187.85,305.43L182.09,305.43Z" fill="#0000ff"/>
<path d="M194.01,312.07L196.89,306.89L191.13,306.89Z" fill="#0000ff"/>
<path d="M203.05,313.43L205.93,308.25L200.17,308.25Z" fill="#0000ff"/>
<path d="M212.10,314.72L214.98,309.53L209.22,309.53Z" fill="#0000ff"/>
<path d="M221.14,315.94L224.02,310.76L218.26,310.76Z" fill="#0000ff"/>
<path d="M230.18,317.11L233.06,311.93L227.30,311.93Z" fill="#0000ff"/>
<path d="M239.22,318.25L242.10,313.06L236.34,313.06Z" fill="#0000ff"/>
<polyline points="76.48,252.69 85.52,261.29 94.56,268.43 103.60,274.39 112.65,279.41 121.69,283.67 130.73,287.33 139.77,290.50 148.81,293.28 157.85,295.74 166.89,297.96 175.93,299.97 184.97,301.83 194.01,303.55 203.05,305.17 212.10,306.71 221.14,308.18 230.18,309.59 239.22,310.96" fill="none" stroke="#00ffff" stroke-width="1.6" stroke-linejoin="round"/>
<path d="M76.48,249.39L79.78,252.69L76.48,255.99L73.18,252.69Z" fill="#00ffff"/>
<path d="M85.52,257.99L88.82,261.29L85.52,264.59L82.22,261.29Z" fill="#00ffff"/>
<path d="M94.56,265.13L97.86,268.43L94.56,271.73L91.26,268.43Z" fill="#00ffff"/>
<path d="M103.60,271.09L106.90,274.39L103.60,277.69L100.30,274.39Z" fill="#00ffff"/>
<path d="M112.65,276.11L115.95,279.41L112.65,282.71L109.35,279.41Z" fill="#00ffff"/>
<path d="M121.69,280.37L124.99,283.67L121.69,286.97L118.39,283.67Z" fill="#00ffff"/>
<path d="M130.73,284.03L134.03,287.33L130.73,290.63L127.43,287.33Z" fill="#00ffff"/>
<path d="M139.77,287.20L143.07,290.50L139.77,293.80L136.47,290.50Z" fill="#00ffff"/>
<path d="M148.81,289.98L152.11,293.28L148.81,296.58L145.51,293.28Z" fill="#00ffff"/>
<path d="M157.85,292.44L161.15,295.74L157.85,299.04L154.55,295.74Z" fill="#00ffff"/>
<path d="M166.89,294.66L170.19,297.96L166.89,301.26L163.59,297.96Z" fill="#00ffff"/>
<path d="M175.93,296.67L179.23,299.97L175.93,303.27L172.63,299.97Z" fill="#00ffff"/>
<path d="M184.97,298.53L188.27,301.83L184.97,305.13L181.67,301.83Z" fill="#00ffff"/>
<path d="M194.01,300.25L197.31,303.55L194.01,306.85L190.71,303.55Z" fill="#00ffff"/>
<path d="M203.05,301.87L206.35,305.17L203.05,308.47L199.75,305.17Z" fill="#00ffff"/>
<path d="M212.10,303.41L215.40,306.71L212.10,310.01L208.80,306.71Z" fill="#00ffff"/>
<path d="M221.14,304.88L224.44,308.18L221.14,311.48L217.84,308.18Z" fill="#00ffff"/>
<path d="M230.18,306.29L233.48,309.59L230.18,312.89L226.88,309.59Z" fill="#00ffff"/>
<path d="M239.22,307.66L242.52,310.96L239.22,314.26L235.92,310.96Z" fill="#00ffff"/>
<polyline points="76.48,242.35 85.52,252.01 94.56,260.13 103.60,266.98 112.65,272.80 121.69,277.78 130.73,282.07 139.77,285.81 148.81,289.08 157.85,291.99 166.89,294.59 175.93,296.94 184.97,299.09 194.01,301.08 203.05,302.92 212.10,304.66 221.14,306.31 230.18,307.89 239.22,309.41" fill="none" stroke="#ff00ff" stroke-width="1.6" stroke-linejoin="round"/>
<path d="M73.18,242.35L78.53,239.38L78.53,245.32Z" fill="#ff00ff"/>
<path d="M82.22,252.01L87.57,249.04L87.57,254.98Z" fill="#ff00ff"/>
<path d="M91.26,260.13L96.61,257.16L96.61,263.10Z" fill="#ff00ff"/>
<path d="M100.30,266.98L105.65,264.01L105.65,269.95Z" fill="#ff00ff"/>
<path d="M109.35,272.80L114.69,269.83L114.69,275.77Z" fill="#ff00ff"/>
<path d="M118.39,277.78L123.73,274.81L123.73,280.75Z" fill="#ff00ff"/>
<path d="M127.43,282.07L132.77,279.10L132.77,285.04Z" fill="#ff00ff"/>
<path d="M136.47,285.81L141.81,282.84L141.81,288.78Z" fill="#ff00ff"/>
<path d="M145.51,289.08L150.86,286.11L150.86,292.05Z" fill="#ff00ff"/>
<path d="M154.55,291.99L159.90,289.02L159.90,294.96Z" fill="#ff00ff"/>
<path d="M163.59,294.59L168.94,291.62L168.94,297.56Z" fill="#ff00ff"/>
<path d="M172.63,296.94L177.98,293.97L177.98,299.91Z" fill="#ff00ff"/>
<path d="M181.67,299.09L187.02,296.12L187.02,302.06Z" fill="#ff00ff"/>
<path d="M190.71,301.08L196.06,298.11L196.06,304.05Z" fill="#ff00ff"/>
<path d="M199.75,302.92L205.10,299.95L205.10,305.89Z" fill="#ff00ff"/>
<path d="M208.80,304.66L214.14,301.69L214.14,307.63Z" fill="#ff00ff"/>
<path d="M217.84,306.31L223.18,303.34L223.18,309.28Z" fill="#ff00ff"/>
<path d="M226.88,307.89L232.22,304.92L232.22,310.86Z" fill="#ff00ff"/>
<path d="M235.92,309.41L241.26,306.44L241.26,312.38Z" fill="#ff00ff"/>
<rect x="58.40" y="227.25" width="198.90" height="134.35" fill="none" stroke="#666666" stroke-width="1"/>
<line x1="58.40" y1="361.60" x2="58.40" y2="364.00" stroke="#666666" stroke-width="1"/>
<text x="58.40" y="374.30" text-anchor="middle" textLength="5.39" lengthAdjust="spacingAndGlyphs" class="tk">0</text>
<line x1="76.48" y1="361.60" x2="76.48" y2="363.10" stroke="#666666" stroke-width="1"/>
<line x1="94.56" y1="361.60" x2="94.56" y2="364.00" stroke="#666666" stroke-width="1"/>
<text x="94.56" y="374.30" text-anchor="middle" textLength="16.18" lengthAdjust="spacingAndGlyphs" class="tk">100</text>
<line x1="112.65" y1="361.60" x2="112.65" y2="363.10" stroke="#666666" stroke-width="1"/>
<line x1="130.73" y1="361.60" x2="130.73" y2="364.00" stroke="#666666" stroke-width="1"/>
<text x="130.73" y="374.30" text-anchor="middle" textLength="16.18" lengthAdjust="spacingAndGlyphs" class="tk">200</text>
<line x1="148.81" y1="361.60" x2="148.81" y2="363.10" stroke="#666666" stroke-width="1"/>
<line x1="166.89" y1="361.60" x2="166.89" y2="364.00" stroke="#666666" stroke-width="1"/>
<text x="166.89" y="374.30" text-anchor="middle" textLength="16.18" lengthAdjust="spacingAndGlyphs" class="tk">300</text>
<line x1="184.97" y1="361.60" x2="184.97" y2="363.10" stroke="#666666" stroke-width="1"/>
<line x1="203.05" y1="361.60" x2="203.05" y2="364.00" stroke="#666666" stroke-width="1"/>
<text x="203.05" y="374.30" text-anchor="middle" textLength="16.18" lengthAdjust="spacingAndGlyphs" class="tk">400</text>
<line x1="221.14" y1="361.60" x2="221.14" y2="363.10" stroke="#666666" stroke-width="1"/>
<line x1="239.22" y1="361.60" x2="239.22" y2="364.00" stroke="#666666" stroke-width="1"/>
<text x="239.22" y="374.30" text-anchor="middle" textLength="16.18" lengthAdjust="spacingAndGlyphs" class="tk">500</text>
<line x1="257.30" y1="361.60" x2="257.30" y2="363.10" stroke="#666666" stroke-width="1"/>
<line x1="56.00" y1="355.28" x2="58.40" y2="355.28" stroke="#666666" stroke-width="1"/>
<text x="52.80" y="358.88" text-anchor="end" textLength="18.88" lengthAdjust="spacingAndGlyphs" class="tk">1.44</text>
<line x1="57.00" y1="348.42" x2="58.40" y2="348.42" stroke="#666666" stroke-width="1"/>
<line x1="56.00" y1="341.56" x2="58.40" y2="341.56" stroke="#666666" stroke-width="1"/>
<text x="52.80" y="345.16" text-anchor="end" textLength="18.88" lengthAdjust="spacingAndGlyphs" class="tk">1.47</text>
<line x1="57.00" y1="334.70" x2="58.40" y2="334.70" stroke="#666666" stroke-width="1"/>
<line x1="56.00" y1="327.84" x2="58.40" y2="327.84" stroke="#666666" stroke-width="1"/>
<text x="52.80" y="331.44" text-anchor="end" textLength="18.88" lengthAdjust="spacingAndGlyphs" class="tk">1.50</text>
<line x1="57.00" y1="320.98" x2="58.40" y2="320.98" stroke="#666666" stroke-width="1"/>
<line x1="56.00" y1="314.12" x2="58.40" y2="314.12" stroke="#666666" stroke-width="1"/>
<text x="52.80" y="317.72" text-anchor="end" textLength="18.88" lengthAdjust="spacingAndGlyphs" class="tk">1.53</text>
<line x1="57.00" y1="307.26" x2="58.40" y2="307.26" stroke="#666666" stroke-width="1"/>
<line x1="56.00" y1="300.40" x2="58.40" y2="300.40" stroke="#666666" stroke-width="1"/>
<text x="52.80" y="304.00" text-anchor="end" textLength="18.88" lengthAdjust="spacingAndGlyphs" class="tk">1.56</text>
<line x1="57.00" y1="293.54" x2="58.40" y2="293.54" stroke="#666666" stroke-width="1"/>
<line x1="56.00" y1="286.68" x2="58.40" y2="286.68" stroke="#666666" stroke-width="1"/>
<text x="52.80" y="290.28" text-anchor="end" textLength="18.88" lengthAdjust="spacingAndGlyphs" class="tk">1.59</text>
<line x1="57.00" y1="279.82" x2="58.40" y2="279.82" stroke="#666666" stroke-width="1"/>
<line x1="56.00" y1="272.96" x2="58.40" y2="272.96" stroke="#666666" stroke-width="1"/>
<text x="52.80" y="276.56" text-anchor="end" textLength="18.88" lengthAdjust="spacingAndGlyphs" class="tk">1.62</text>
<line x1="57.00" y1="266.10" x2="58.40" y2="266.10" stroke="#666666" stroke-width="1"/>
<line x1="56.00" y1="259.24" x2="58.40" y2="259.24" stroke="#666666" stroke-width="1"/>
<text x="52.80" y="262.84" text-anchor="end" textLength="18.88" lengthAdjust="spacingAndGlyphs" class="tk">1.65</text>
<line x1="57.00" y1="252.38" x2="58.40" y2="252.38" stroke="#666666" stroke-width="1"/>
<line x1="56.00" y1="245.52" x2="58.40" y2="245.52" stroke="#666666" stroke-width="1"/>
<text x="52.80" y="249.12" text-anchor="end" textLength="18.88" lengthAdjust="spacingAndGlyphs" class="tk">1.68</text>
<line x1="57.00" y1="238.66" x2="58.40" y2="238.66" stroke="#666666" stroke-width="1"/>
<line x1="56.00" y1="231.80" x2="58.40" y2="231.80" stroke="#666666" stroke-width="1"/>
<text x="52.80" y="235.40" text-anchor="end" textLength="18.88" lengthAdjust="spacingAndGlyphs" class="tk">1.71</text>
<text x="15.37" y="226.20" class="pl">(</text>
<text x="22.34" y="226.20" font-size="18.6" class="pm">c</text>
<text x="32.56" y="226.20" class="pl">)</text>
<text x="137.15" y="223.40" textLength="118.95" lengthAdjust="spacingAndGlyphs" class="tt">SiN layer height: 125 nm</text>
<text x="86.40" y="390.80" textLength="20.30" lengthAdjust="spacingAndGlyphs" class="xl">SiO</text>
<text x="107.00" y="394.00" textLength="4.20" lengthAdjust="spacingAndGlyphs" class="xs">2</text>
<text x="114.80" y="390.80" textLength="114.00" lengthAdjust="spacingAndGlyphs" class="xl">interlayer height (nm)</text>
<text transform="translate(23.00,317.00) rotate(-90)" class="yl">n</text>
<text transform="translate(28.90,308.40) rotate(-90)" textLength="12.2" lengthAdjust="spacingAndGlyphs" class="ye">eff</text>
<rect x="149.30" y="229.40" width="105.70" height="33.10" fill="#fff" stroke="#777" stroke-width="0.9"/>
<text x="151.70" y="237.80" textLength="49.95" lengthAdjust="spacingAndGlyphs" class="lg">num. of SiO</text>
<text x="201.15" y="238.20" textLength="3.40" lengthAdjust="spacingAndGlyphs" class="ls">2</text>
<text x="210.24" y="237.80" textLength="42.96" lengthAdjust="spacingAndGlyphs" class="lg">interlayers</text>
<line x1="153.10" y1="246.00" x2="168.80" y2="246.00" stroke="#000000" stroke-width="1.5"/>
<rect x="158.84" y="243.88" width="4.23" height="4.23" fill="#000000"/>
<text x="170.70" y="248.60" class="ld">0</text>
<line x1="182.10" y1="246.00" x2="197.80" y2="246.00" stroke="#ff0000" stroke-width="1.5"/>
<circle cx="189.95" cy="246.00" r="2.29" fill="#ff0000"/>
<text x="199.70" y="248.60" class="ld">1</text>
<line x1="211.10" y1="246.00" x2="226.80" y2="246.00" stroke="#00ff00" stroke-width="1.5"/>
<path d="M218.95,243.12L221.54,247.79L216.36,247.79Z" fill="#00ff00"/>
<text x="228.70" y="248.60" class="ld">2</text>
<line x1="153.10" y1="255.60" x2="168.80" y2="255.60" stroke="#0000ff" stroke-width="1.5"/>
<path d="M160.95,258.48L163.54,253.81L158.36,253.81Z" fill="#0000ff"/>
<text x="170.70" y="258.20" class="ld">3</text>
<line x1="182.10" y1="255.60" x2="197.80" y2="255.60" stroke="#00ffff" stroke-width="1.5"/>
<path d="M189.95,252.63L192.92,255.60L189.95,258.57L186.98,255.60Z" fill="#00ffff"/>
<text x="199.70" y="258.20" class="ld">4</text>
<line x1="211.10" y1="255.60" x2="226.80" y2="255.60" stroke="#ff00ff" stroke-width="1.5"/>
<path d="M215.98,255.60L220.79,252.93L220.79,258.27Z" fill="#ff00ff"/>
<text x="228.70" y="258.20" class="ld">5</text>
<polyline points="357.43,352.57 366.47,351.06 375.50,349.62 384.54,348.26 393.58,346.98 402.62,345.79 411.66,344.68 420.70,343.65 429.74,342.70 438.78,341.84 447.81,341.05 456.85,340.34 465.89,339.69 474.93,339.10 483.97,338.57 493.01,338.09 502.05,337.65 511.08,337.23 520.12,336.83" fill="none" stroke="#000000" stroke-width="1.6" stroke-linejoin="round"/>
<rect x="355.08" y="350.22" width="4.70" height="4.70" fill="#000000"/>
<rect x="364.12" y="348.71" width="4.70" height="4.70" fill="#000000"/>
<rect x="373.15" y="347.27" width="4.70" height="4.70" fill="#000000"/>
<rect x="382.19" y="345.91" width="4.70" height="4.70" fill="#000000"/>
<rect x="391.23" y="344.63" width="4.70" height="4.70" fill="#000000"/>
<rect x="400.27" y="343.44" width="4.70" height="4.70" fill="#000000"/>
<rect x="409.31" y="342.33" width="4.70" height="4.70" fill="#000000"/>
<rect x="418.35" y="341.30" width="4.70" height="4.70" fill="#000000"/>
<rect x="427.39" y="340.35" width="4.70" height="4.70" fill="#000000"/>
<rect x="436.43" y="339.49" width="4.70" height="4.70" fill="#000000"/>
<rect x="445.46" y="338.70" width="4.70" height="4.70" fill="#000000"/>
<rect x="454.50" y="337.99" width="4.70" height="4.70" fill="#000000"/>
<rect x="463.54" y="337.34" width="4.70" height="4.70" fill="#000000"/>
<rect x="472.58" y="336.75" width="4.70" height="4.70" fill="#000000"/>
<rect x="481.62" y="336.22" width="4.70" height="4.70" fill="#000000"/>
<rect x="490.66" y="335.74" width="4.70" height="4.70" fill="#000000"/>
<rect x="499.70" y="335.30" width="4.70" height="4.70" fill="#000000"/>
<rect x="508.73" y="334.88" width="4.70" height="4.70" fill="#000000"/>
<rect x="517.77" y="334.48" width="4.70" height="4.70" fill="#000000"/>
<polyline points="357.43,319.81 366.47,320.97 375.50,322.02 384.54,322.97 393.58,323.83 402.62,324.60 411.66,325.30 420.70,325.93 429.74,326.50 438.78,327.02 447.81,327.49 456.85,327.92 465.89,328.33 474.93,328.72 483.97,329.09 493.01,329.47 502.05,329.86 511.08,330.27 520.12,330.70" fill="none" stroke="#ff0000" stroke-width="1.6" stroke-linejoin="round"/>
<circle cx="357.43" cy="319.81" r="2.55" fill="#ff0000"/>
<circle cx="366.47" cy="320.97" r="2.55" fill="#ff0000"/>
<circle cx="375.50" cy="322.02" r="2.55" fill="#ff0000"/>
<circle cx="384.54" cy="322.97" r="2.55" fill="#ff0000"/>
<circle cx="393.58" cy="323.83" r="2.55" fill="#ff0000"/>
<circle cx="402.62" cy="324.60" r="2.55" fill="#ff0000"/>
<circle cx="411.66" cy="325.30" r="2.55" fill="#ff0000"/>
<circle cx="420.70" cy="325.93" r="2.55" fill="#ff0000"/>
<circle cx="429.74" cy="326.50" r="2.55" fill="#ff0000"/>
<circle cx="438.78" cy="327.02" r="2.55" fill="#ff0000"/>
<circle cx="447.81" cy="327.49" r="2.55" fill="#ff0000"/>
<circle cx="456.85" cy="327.92" r="2.55" fill="#ff0000"/>
<circle cx="465.89" cy="328.33" r="2.55" fill="#ff0000"/>
<circle cx="474.93" cy="328.72" r="2.55" fill="#ff0000"/>
<circle cx="483.97" cy="329.09" r="2.55" fill="#ff0000"/>
<circle cx="493.01" cy="329.47" r="2.55" fill="#ff0000"/>
<circle cx="502.05" cy="329.86" r="2.55" fill="#ff0000"/>
<circle cx="511.08" cy="330.27" r="2.55" fill="#ff0000"/>
<circle cx="520.12" cy="330.70" r="2.55" fill="#ff0000"/>
<polyline points="357.43,288.49 366.47,292.82 375.50,296.32 384.54,299.19 393.58,301.61 402.62,303.68 411.66,305.50 420.70,307.13 429.74,308.62 438.78,310.00 447.81,311.31 456.85,312.56 465.89,313.77 474.93,314.95 483.97,316.10 493.01,317.24 502.05,318.36 511.08,319.48 520.12,320.58" fill="none" stroke="#00ff00" stroke-width="1.6" stroke-linejoin="round"/>
<path d="M357.43,285.29L360.31,290.48L354.55,290.48Z" fill="#00ff00"/>
<path d="M366.47,289.62L369.35,294.81L363.59,294.81Z" fill="#00ff00"/>
<path d="M375.50,293.12L378.38,298.30L372.62,298.30Z" fill="#00ff00"/>
<path d="M384.54,295.99L387.42,301.18L381.66,301.18Z" fill="#00ff00"/>
<path d="M393.58,298.41L396.46,303.59L390.70,303.59Z" fill="#00ff00"/>
<path d="M402.62,300.48L405.50,305.66L399.74,305.66Z" fill="#00ff00"/>
<path d="M411.66,302.30L414.54,307.48L408.78,307.48Z" fill="#00ff00"/>
<path d="M420.70,303.93L423.58,309.11L417.82,309.11Z" fill="#00ff00"/>
<path d="M429.74,305.42L432.62,310.60L426.86,310.60Z" fill="#00ff00"/>
<path d="M438.78,306.80L441.66,311.99L435.90,311.99Z" fill="#00ff00"/>
<path d="M447.81,308.11L450.69,313.30L444.93,313.30Z" fill="#00ff00"/>
<path d="M456.85,309.36L459.73,314.55L453.97,314.55Z" fill="#00ff00"/>
<path d="M465.89,310.57L468.77,315.76L463.01,315.76Z" fill="#00ff00"/>
<path d="M474.93,311.75L477.81,316.93L472.05,316.93Z" fill="#00ff00"/>
<path d="M483.97,312.90L486.85,318.09L481.09,318.09Z" fill="#00ff00"/>
<path d="M493.01,314.04L495.89,319.22L490.13,319.22Z" fill="#00ff00"/>
<path d="M502.05,315.16L504.93,320.35L499.17,320.35Z" fill="#00ff00"/>
<path d="M511.08,316.28L513.96,321.46L508.20,321.46Z" fill="#00ff00"/>
<path d="M520.12,317.38L523.00,322.57L517.24,322.57Z" fill="#00ff00"/>
<polyline points="357.43,270.34 366.47,276.93 375.50,282.20 384.54,286.49 393.58,290.05 402.62,293.07 411.66,295.68 420.70,298.00 429.74,300.09 438.78,302.03 447.81,303.83 456.85,305.55 465.89,307.20 474.93,308.80 483.97,310.37 493.01,311.91 502.05,313.42 511.08,314.92 520.12,316.41" fill="none" stroke="#0000ff" stroke-width="1.6" stroke-linejoin="round"/>
<path d="M357.43,273.54L360.31,268.35L354.55,268.35Z" fill="#0000ff"/>
<path d="M366.47,280.13L369.35,274.95L363.59,274.95Z" fill="#0000ff"/>
<path d="M375.50,285.40L378.38,280.22L372.62,280.22Z" fill="#0000ff"/>
<path d="M384.54,289.69L387.42,284.51L381.66,284.51Z" fill="#0000ff"/>
<path d="M393.58,293.25L396.46,288.06L390.70,288.06Z" fill="#0000ff"/>
<path d="M402.62,296.27L405.50,291.08L399.74,291.08Z" fill="#0000ff"/>
<path d="M411.66,298.88L414.54,293.70L408.78,293.70Z" fill="#0000ff"/>
<path d="M420.70,301.20L423.58,296.01L417.82,296.01Z" fill="#0000ff"/>
<path d="M429.74,303.29L432.62,298.11L426.86,298.11Z" fill="#0000ff"/>
<path d="M438.78,305.23L441.66,300.04L435.90,300.04Z" fill="#0000ff"/>
<path d="M447.81,307.03L450.69,301.85L444.93,301.85Z" fill="#0000ff"/>
<path d="M456.85,308.75L459.73,303.57L453.97,303.57Z" fill="#0000ff"/>
<path d="M465.89,310.40L468.77,305.22L463.01,305.22Z" fill="#0000ff"/>
<path d="M474.93,312.00L477.81,306.82L472.05,306.82Z" fill="#0000ff"/>
<path d="M483.97,313.57L486.85,308.38L481.09,308.38Z" fill="#0000ff"/>
<path d="M493.01,315.11L495.89,309.92L490.13,309.92Z" fill="#0000ff"/>
<path d="M502.05,316.62L504.93,311.44L499.17,311.44Z" fill="#0000ff"/>
<path d="M511.08,318.12L513.96,312.94L508.20,312.94Z" fill="#0000ff"/>
<path d="M520.12,319.61L523.00,314.43L517.24,314.43Z" fill="#0000ff"/>
<polyline points="357.43,258.94 366.47,266.35 375.50,272.64 384.54,278.00 393.58,282.62 402.62,286.62 411.66,290.12 420.70,293.22 429.74,295.98 438.78,298.47 447.81,300.74 456.85,302.83 465.89,304.77 474.93,306.59 483.97,308.32 493.01,309.96 502.05,311.54 511.08,313.06 520.12,314.54" fill="none" stroke="#00ffff" stroke-width="1.6" stroke-linejoin="round"/>
<path d="M357.43,255.64L360.73,258.94L357.43,262.24L354.13,258.94Z" fill="#00ffff"/>
<path d="M366.47,263.05L369.77,266.35L366.47,269.65L363.17,266.35Z" fill="#00ffff"/>
<path d="M375.50,269.34L378.80,272.64L375.50,275.94L372.20,272.64Z" fill="#00ffff"/>
<path d="M384.54,274.70L387.84,278.00L384.54,281.30L381.24,278.00Z" fill="#00ffff"/>
<path d="M393.58,279.32L396.88,282.62L393.58,285.92L390.28,282.62Z" fill="#00ffff"/>
<path d="M402.62,283.32L405.92,286.62L402.62,289.92L399.32,286.62Z" fill="#00ffff"/>
<path d="M411.66,286.82L414.96,290.12L411.66,293.42L408.36,290.12Z" fill="#00ffff"/>
<path d="M420.70,289.92L424.00,293.22L420.70,296.52L417.40,293.22Z" fill="#00ffff"/>
<path d="M429.74,292.68L433.04,295.98L429.74,299.28L426.44,295.98Z" fill="#00ffff"/>
<path d="M438.78,295.17L442.08,298.47L438.78,301.77L435.48,298.47Z" fill="#00ffff"/>
<path d="M447.81,297.44L451.11,300.74L447.81,304.04L444.51,300.74Z" fill="#00ffff"/>
<path d="M456.85,299.53L460.15,302.83L456.85,306.13L453.55,302.83Z" fill="#00ffff"/>
<path d="M465.89,301.47L469.19,304.77L465.89,308.07L462.59,304.77Z" fill="#00ffff"/>
<path d="M474.93,303.29L478.23,306.59L474.93,309.89L471.63,306.59Z" fill="#00ffff"/>
<path d="M483.97,305.02L487.27,308.32L483.97,311.62L480.67,308.32Z" fill="#00ffff"/>
<path d="M493.01,306.66L496.31,309.96L493.01,313.26L489.71,309.96Z" fill="#00ffff"/>
<path d="M502.05,308.24L505.35,311.54L502.05,314.84L498.75,311.54Z" fill="#00ffff"/>
<path d="M511.08,309.76L514.38,313.06L511.08,316.36L507.78,313.06Z" fill="#00ffff"/>
<path d="M520.12,311.24L523.42,314.54L520.12,317.84L516.82,314.54Z" fill="#00ffff"/>
<polyline points="357.43,251.67 366.47,259.92 375.50,266.94 384.54,272.92 393.58,278.03 402.62,282.40 411.66,286.18 420.70,289.48 429.74,292.40 438.78,295.03 447.81,297.42 456.85,299.64 465.89,301.71 474.93,303.65 483.97,305.48 493.01,307.16 502.05,308.68 511.08,309.98 520.12,311.00" fill="none" stroke="#ff00ff" stroke-width="1.6" stroke-linejoin="round"/>
<path d="M354.13,251.67L359.47,248.70L359.47,254.64Z" fill="#ff00ff"/>
<path d="M363.17,259.92L368.51,256.95L368.51,262.89Z" fill="#ff00ff"/>
<path d="M372.20,266.94L377.55,263.97L377.55,269.91Z" fill="#ff00ff"/>
<path d="M381.24,272.92L386.59,269.95L386.59,275.89Z" fill="#ff00ff"/>
<path d="M390.28,278.03L395.63,275.06L395.63,281.00Z" fill="#ff00ff"/>
<path d="M399.32,282.40L404.67,279.43L404.67,285.37Z" fill="#ff00ff"/>
<path d="M408.36,286.18L413.71,283.21L413.71,289.15Z" fill="#ff00ff"/>
<path d="M417.40,289.48L422.74,286.51L422.74,292.45Z" fill="#ff00ff"/>
<path d="M426.44,292.40L431.78,289.43L431.78,295.37Z" fill="#ff00ff"/>
<path d="M435.48,295.03L440.82,292.06L440.82,298.00Z" fill="#ff00ff"/>
<path d="M444.51,297.42L449.86,294.45L449.86,300.39Z" fill="#ff00ff"/>
<path d="M453.55,299.64L458.90,296.67L458.90,302.61Z" fill="#ff00ff"/>
<path d="M462.59,301.71L467.94,298.74L467.94,304.68Z" fill="#ff00ff"/>
<path d="M471.63,303.65L476.98,300.68L476.98,306.62Z" fill="#ff00ff"/>
<path d="M480.67,305.48L486.01,302.51L486.01,308.45Z" fill="#ff00ff"/>
<path d="M489.71,307.16L495.05,304.19L495.05,310.13Z" fill="#ff00ff"/>
<path d="M498.75,308.68L504.09,305.71L504.09,311.65Z" fill="#ff00ff"/>
<path d="M507.78,309.98L513.13,307.01L513.13,312.95Z" fill="#ff00ff"/>
<path d="M516.82,311.00L522.17,308.03L522.17,313.97Z" fill="#ff00ff"/>
<rect x="339.35" y="227.25" width="198.85" height="134.35" fill="none" stroke="#666666" stroke-width="1"/>
<line x1="339.35" y1="361.60" x2="339.35" y2="364.00" stroke="#666666" stroke-width="1"/>
<text x="339.35" y="374.30" text-anchor="middle" textLength="5.39" lengthAdjust="spacingAndGlyphs" class="tk">0</text>
<line x1="357.43" y1="361.60" x2="357.43" y2="363.10" stroke="#666666" stroke-width="1"/>
<line x1="375.50" y1="361.60" x2="375.50" y2="364.00" stroke="#666666" stroke-width="1"/>
<text x="375.50" y="374.30" text-anchor="middle" textLength="16.18" lengthAdjust="spacingAndGlyphs" class="tk">100</text>
<line x1="393.58" y1="361.60" x2="393.58" y2="363.10" stroke="#666666" stroke-width="1"/>
<line x1="411.66" y1="361.60" x2="411.66" y2="364.00" stroke="#666666" stroke-width="1"/>
<text x="411.66" y="374.30" text-anchor="middle" textLength="16.18" lengthAdjust="spacingAndGlyphs" class="tk">200</text>
<line x1="429.74" y1="361.60" x2="429.74" y2="363.10" stroke="#666666" stroke-width="1"/>
<line x1="447.81" y1="361.60" x2="447.81" y2="364.00" stroke="#666666" stroke-width="1"/>
<text x="447.81" y="374.30" text-anchor="middle" textLength="16.18" lengthAdjust="spacingAndGlyphs" class="tk">300</text>
<line x1="465.89" y1="361.60" x2="465.89" y2="363.10" stroke="#666666" stroke-width="1"/>
<line x1="483.97" y1="361.60" x2="483.97" y2="364.00" stroke="#666666" stroke-width="1"/>
<text x="483.97" y="374.30" text-anchor="middle" textLength="16.18" lengthAdjust="spacingAndGlyphs" class="tk">400</text>
<line x1="502.05" y1="361.60" x2="502.05" y2="363.10" stroke="#666666" stroke-width="1"/>
<line x1="520.12" y1="361.60" x2="520.12" y2="364.00" stroke="#666666" stroke-width="1"/>
<text x="520.12" y="374.30" text-anchor="middle" textLength="16.18" lengthAdjust="spacingAndGlyphs" class="tk">500</text>
<line x1="538.20" y1="361.60" x2="538.20" y2="363.10" stroke="#666666" stroke-width="1"/>
<line x1="336.95" y1="355.83" x2="339.35" y2="355.83" stroke="#666666" stroke-width="1"/>
<text x="333.75" y="359.43" text-anchor="end" textLength="18.88" lengthAdjust="spacingAndGlyphs" class="tk">1.44</text>
<line x1="337.95" y1="348.27" x2="339.35" y2="348.27" stroke="#666666" stroke-width="1"/>
<line x1="336.95" y1="340.71" x2="339.35" y2="340.71" stroke="#666666" stroke-width="1"/>
<text x="333.75" y="344.31" text-anchor="end" textLength="18.88" lengthAdjust="spacingAndGlyphs" class="tk">1.48</text>
<line x1="337.95" y1="333.15" x2="339.35" y2="333.15" stroke="#666666" stroke-width="1"/>
<line x1="336.95" y1="325.59" x2="339.35" y2="325.59" stroke="#666666" stroke-width="1"/>
<text x="333.75" y="329.19" text-anchor="end" textLength="18.88" lengthAdjust="spacingAndGlyphs" class="tk">1.52</text>
<line x1="337.95" y1="318.02" x2="339.35" y2="318.02" stroke="#666666" stroke-width="1"/>
<line x1="336.95" y1="310.46" x2="339.35" y2="310.46" stroke="#666666" stroke-width="1"/>
<text x="333.75" y="314.06" text-anchor="end" textLength="18.88" lengthAdjust="spacingAndGlyphs" class="tk">1.56</text>
<line x1="337.95" y1="302.90" x2="339.35" y2="302.90" stroke="#666666" stroke-width="1"/>
<line x1="336.95" y1="295.34" x2="339.35" y2="295.34" stroke="#666666" stroke-width="1"/>
<text x="333.75" y="298.94" text-anchor="end" textLength="18.88" lengthAdjust="spacingAndGlyphs" class="tk">1.60</text>
<line x1="337.95" y1="287.78" x2="339.35" y2="287.78" stroke="#666666" stroke-width="1"/>
<line x1="336.95" y1="280.21" x2="339.35" y2="280.21" stroke="#666666" stroke-width="1"/>
<text x="333.75" y="283.81" text-anchor="end" textLength="18.88" lengthAdjust="spacingAndGlyphs" class="tk">1.64</text>
<line x1="337.95" y1="272.65" x2="339.35" y2="272.65" stroke="#666666" stroke-width="1"/>
<line x1="336.95" y1="265.09" x2="339.35" y2="265.09" stroke="#666666" stroke-width="1"/>
<text x="333.75" y="268.69" text-anchor="end" textLength="18.88" lengthAdjust="spacingAndGlyphs" class="tk">1.68</text>
<line x1="337.95" y1="257.53" x2="339.35" y2="257.53" stroke="#666666" stroke-width="1"/>
<line x1="336.95" y1="249.97" x2="339.35" y2="249.97" stroke="#666666" stroke-width="1"/>
<text x="333.75" y="253.57" text-anchor="end" textLength="18.88" lengthAdjust="spacingAndGlyphs" class="tk">1.72</text>
<line x1="337.95" y1="242.40" x2="339.35" y2="242.40" stroke="#666666" stroke-width="1"/>
<line x1="336.95" y1="234.84" x2="339.35" y2="234.84" stroke="#666666" stroke-width="1"/>
<text x="333.75" y="238.44" text-anchor="end" textLength="18.88" lengthAdjust="spacingAndGlyphs" class="tk">1.76</text>
<line x1="337.95" y1="227.28" x2="339.35" y2="227.28" stroke="#666666" stroke-width="1"/>
<text x="292.17" y="224.90" class="pl">(</text>
<text x="299.44" y="224.90" font-size="18.8" class="pm">d</text>
<text x="309.56" y="224.90" class="pl">)</text>
<text x="425.15" y="223.40" textLength="119.15" lengthAdjust="spacingAndGlyphs" class="tt">SiN layer height: 150 nm</text>
<text x="367.35" y="390.80" textLength="20.30" lengthAdjust="spacingAndGlyphs" class="xl">SiO</text>
<text x="387.95" y="394.00" textLength="4.20" lengthAdjust="spacingAndGlyphs" class="xs">2</text>
<text x="395.75" y="390.80" textLength="114.00" lengthAdjust="spacingAndGlyphs" class="xl">interlayer height (nm)</text>
<text transform="translate(303.95,317.00) rotate(-90)" class="yl">n</text>
<text transform="translate(309.85,308.40) rotate(-90)" textLength="12.2" lengthAdjust="spacingAndGlyphs" class="ye">eff</text>
<rect x="427.90" y="228.80" width="106.50" height="33.10" fill="#fff" stroke="#777" stroke-width="0.9"/>
<text x="430.32" y="237.20" textLength="50.33" lengthAdjust="spacingAndGlyphs" class="lg">num. of SiO</text>
<text x="480.14" y="237.60" textLength="3.40" lengthAdjust="spacingAndGlyphs" class="ls">2</text>
<text x="489.30" y="237.20" textLength="43.28" lengthAdjust="spacingAndGlyphs" class="lg">interlayers</text>
<line x1="431.70" y1="245.40" x2="447.40" y2="245.40" stroke="#000000" stroke-width="1.5"/>
<rect x="437.44" y="243.28" width="4.23" height="4.23" fill="#000000"/>
<text x="449.30" y="248.00" class="ld">0</text>
<line x1="460.70" y1="245.40" x2="476.40" y2="245.40" stroke="#ff0000" stroke-width="1.5"/>
<circle cx="468.55" cy="245.40" r="2.29" fill="#ff0000"/>
<text x="478.30" y="248.00" class="ld">1</text>
<line x1="489.70" y1="245.40" x2="505.40" y2="245.40" stroke="#00ff00" stroke-width="1.5"/>
<path d="M497.55,242.52L500.14,247.19L494.96,247.19Z" fill="#00ff00"/>
<text x="507.30" y="248.00" class="ld">2</text>
<line x1="431.70" y1="255.00" x2="447.40" y2="255.00" stroke="#0000ff" stroke-width="1.5"/>
<path d="M439.55,257.88L442.14,253.21L436.96,253.21Z" fill="#0000ff"/>
<text x="449.30" y="257.60" class="ld">3</text>
<line x1="460.70" y1="255.00" x2="476.40" y2="255.00" stroke="#00ffff" stroke-width="1.5"/>
<path d="M468.55,252.03L471.52,255.00L468.55,257.97L465.58,255.00Z" fill="#00ffff"/>
<text x="478.30" y="257.60" class="ld">4</text>
<line x1="489.70" y1="255.00" x2="505.40" y2="255.00" stroke="#ff00ff" stroke-width="1.5"/>
<path d="M494.58,255.00L499.39,252.33L499.39,257.67Z" fill="#ff00ff"/>
<text x="507.30" y="257.60" class="ld">5</text>
<rect x="86.71" y="172.59" width="2.12" height="1.96" fill="#fff"/>
<rect x="89.85" y="172.59" width="2.04" height="1.96" fill="#fff"/>
<rect x="34.16" y="155.99" width="2.12" height="1.96" fill="#fff"/>
<rect x="37.31" y="155.99" width="2.04" height="1.96" fill="#fff"/>
<rect x="34.16" y="141.07" width="2.12" height="1.96" fill="#fff"/>
<rect x="37.31" y="141.07" width="2.04" height="1.96" fill="#fff"/>
<rect x="34.16" y="126.15" width="2.12" height="1.96" fill="#fff"/>
<rect x="37.31" y="126.15" width="2.04" height="1.96" fill="#fff"/>
<rect x="34.16" y="111.23" width="2.12" height="1.96" fill="#fff"/>
<rect x="37.31" y="111.23" width="2.04" height="1.96" fill="#fff"/>
<rect x="34.16" y="96.31" width="2.12" height="1.96" fill="#fff"/>
<rect x="37.31" y="96.31" width="2.04" height="1.96" fill="#fff"/>
<rect x="34.16" y="81.38" width="2.12" height="1.96" fill="#fff"/>
<rect x="37.31" y="81.38" width="2.04" height="1.96" fill="#fff"/>
<rect x="34.16" y="66.46" width="2.12" height="1.96" fill="#fff"/>
<rect x="37.31" y="66.46" width="2.04" height="1.96" fill="#fff"/>
<rect x="34.16" y="51.54" width="2.12" height="1.96" fill="#fff"/>
<rect x="37.31" y="51.54" width="2.04" height="1.96" fill="#fff"/>
<rect x="34.16" y="36.62" width="2.12" height="1.96" fill="#fff"/>
<rect x="37.31" y="36.62" width="2.04" height="1.96" fill="#fff"/>
<rect x="198.81" y="47.76" width="2.05" height="1.89" fill="#fff"/>
<rect x="201.84" y="47.76" width="1.98" height="1.89" fill="#fff"/>
<rect x="367.65" y="172.44" width="2.12" height="1.96" fill="#fff"/>
<rect x="370.79" y="172.44" width="2.04" height="1.96" fill="#fff"/>
<rect x="315.11" y="155.56" width="2.12" height="1.96" fill="#fff"/>
<rect x="318.26" y="155.56" width="2.04" height="1.96" fill="#fff"/>
<rect x="315.11" y="139.40" width="2.12" height="1.96" fill="#fff"/>
<rect x="318.26" y="139.40" width="2.04" height="1.96" fill="#fff"/>
<rect x="315.11" y="123.24" width="2.12" height="1.96" fill="#fff"/>
<rect x="318.26" y="123.24" width="2.04" height="1.96" fill="#fff"/>
<rect x="315.11" y="107.07" width="2.12" height="1.96" fill="#fff"/>
<rect x="318.26" y="107.07" width="2.04" height="1.96" fill="#fff"/>
<rect x="315.11" y="90.91" width="2.12" height="1.96" fill="#fff"/>
<rect x="318.26" y="90.91" width="2.04" height="1.96" fill="#fff"/>
<rect x="315.11" y="74.75" width="2.12" height="1.96" fill="#fff"/>
<rect x="318.26" y="74.75" width="2.04" height="1.96" fill="#fff"/>
<rect x="315.11" y="58.59" width="2.12" height="1.96" fill="#fff"/>
<rect x="318.26" y="58.59" width="2.04" height="1.96" fill="#fff"/>
<rect x="315.11" y="42.42" width="2.12" height="1.96" fill="#fff"/>
<rect x="318.26" y="42.42" width="2.04" height="1.96" fill="#fff"/>
<rect x="503.29" y="21.13" width="2.16" height="2.22" fill="#fff"/>
<rect x="507.04" y="21.13" width="2.03" height="2.22" fill="#fff"/>
<rect x="480.81" y="46.76" width="2.05" height="1.89" fill="#fff"/>
<rect x="483.84" y="46.76" width="1.98" height="1.89" fill="#fff"/>
<rect x="86.71" y="372.79" width="2.12" height="1.96" fill="#fff"/>
<rect x="89.85" y="372.79" width="2.04" height="1.96" fill="#fff"/>
<rect x="34.16" y="357.37" width="2.12" height="1.96" fill="#fff"/>
<rect x="37.31" y="357.37" width="2.04" height="1.96" fill="#fff"/>
<rect x="34.16" y="343.65" width="2.12" height="1.96" fill="#fff"/>
<rect x="37.31" y="343.65" width="2.04" height="1.96" fill="#fff"/>
<rect x="34.16" y="329.93" width="2.12" height="1.96" fill="#fff"/>
<rect x="37.31" y="329.93" width="2.04" height="1.96" fill="#fff"/>
<rect x="34.16" y="316.21" width="2.12" height="1.96" fill="#fff"/>
<rect x="37.31" y="316.21" width="2.04" height="1.96" fill="#fff"/>
<rect x="34.16" y="302.49" width="2.12" height="1.96" fill="#fff"/>
<rect x="37.31" y="302.49" width="2.04" height="1.96" fill="#fff"/>
<rect x="34.16" y="288.77" width="2.12" height="1.96" fill="#fff"/>
<rect x="37.31" y="288.77" width="2.04" height="1.96" fill="#fff"/>
<rect x="34.16" y="275.05" width="2.12" height="1.96" fill="#fff"/>
<rect x="37.31" y="275.05" width="2.04" height="1.96" fill="#fff"/>
<rect x="34.16" y="261.33" width="2.12" height="1.96" fill="#fff"/>
<rect x="37.31" y="261.33" width="2.04" height="1.96" fill="#fff"/>
<rect x="34.16" y="247.61" width="2.12" height="1.96" fill="#fff"/>
<rect x="37.31" y="247.61" width="2.04" height="1.96" fill="#fff"/>
<rect x="34.16" y="233.89" width="2.12" height="1.96" fill="#fff"/>
<rect x="37.31" y="233.89" width="2.04" height="1.96" fill="#fff"/>
<rect x="47.64" y="233.89" width="2.12" height="1.96" fill="#fff"/>
<rect x="50.78" y="233.89" width="2.04" height="1.96" fill="#fff"/>
<rect x="220.93" y="221.63" width="2.16" height="2.22" fill="#fff"/>
<rect x="224.68" y="221.63" width="2.03" height="2.22" fill="#fff"/>
<rect x="199.91" y="247.16" width="2.05" height="1.89" fill="#fff"/>
<rect x="202.94" y="247.16" width="1.98" height="1.89" fill="#fff"/>
<rect x="367.65" y="372.79" width="2.12" height="1.96" fill="#fff"/>
<rect x="370.79" y="372.79" width="2.04" height="1.96" fill="#fff"/>
<rect x="315.11" y="357.92" width="2.12" height="1.96" fill="#fff"/>
<rect x="318.26" y="357.92" width="2.04" height="1.96" fill="#fff"/>
<rect x="315.11" y="342.80" width="2.12" height="1.96" fill="#fff"/>
<rect x="318.26" y="342.80" width="2.04" height="1.96" fill="#fff"/>
<rect x="315.11" y="327.68" width="2.12" height="1.96" fill="#fff"/>
<rect x="318.26" y="327.68" width="2.04" height="1.96" fill="#fff"/>
<rect x="315.11" y="312.55" width="2.12" height="1.96" fill="#fff"/>
<rect x="318.26" y="312.55" width="2.04" height="1.96" fill="#fff"/>
<rect x="315.11" y="297.43" width="2.12" height="1.96" fill="#fff"/>
<rect x="318.26" y="297.43" width="2.04" height="1.96" fill="#fff"/>
<rect x="315.11" y="282.30" width="2.12" height="1.96" fill="#fff"/>
<rect x="318.26" y="282.30" width="2.04" height="1.96" fill="#fff"/>
<rect x="315.11" y="267.18" width="2.12" height="1.96" fill="#fff"/>
<rect x="318.26" y="267.18" width="2.04" height="1.96" fill="#fff"/>
<rect x="315.11" y="252.06" width="2.12" height="1.96" fill="#fff"/>
<rect x="318.26" y="252.06" width="2.04" height="1.96" fill="#fff"/>
<rect x="315.11" y="236.93" width="2.12" height="1.96" fill="#fff"/>
<rect x="318.26" y="236.93" width="2.04" height="1.96" fill="#fff"/>
<rect x="509.07" y="221.63" width="2.16" height="2.22" fill="#fff"/>
<rect x="512.83" y="221.63" width="2.03" height="2.22" fill="#fff"/>
<rect x="478.51" y="246.56" width="2.05" height="1.89" fill="#fff"/>
<rect x="481.54" y="246.56" width="1.98" height="1.89" fill="#fff"/>
</svg>
</body></html>
